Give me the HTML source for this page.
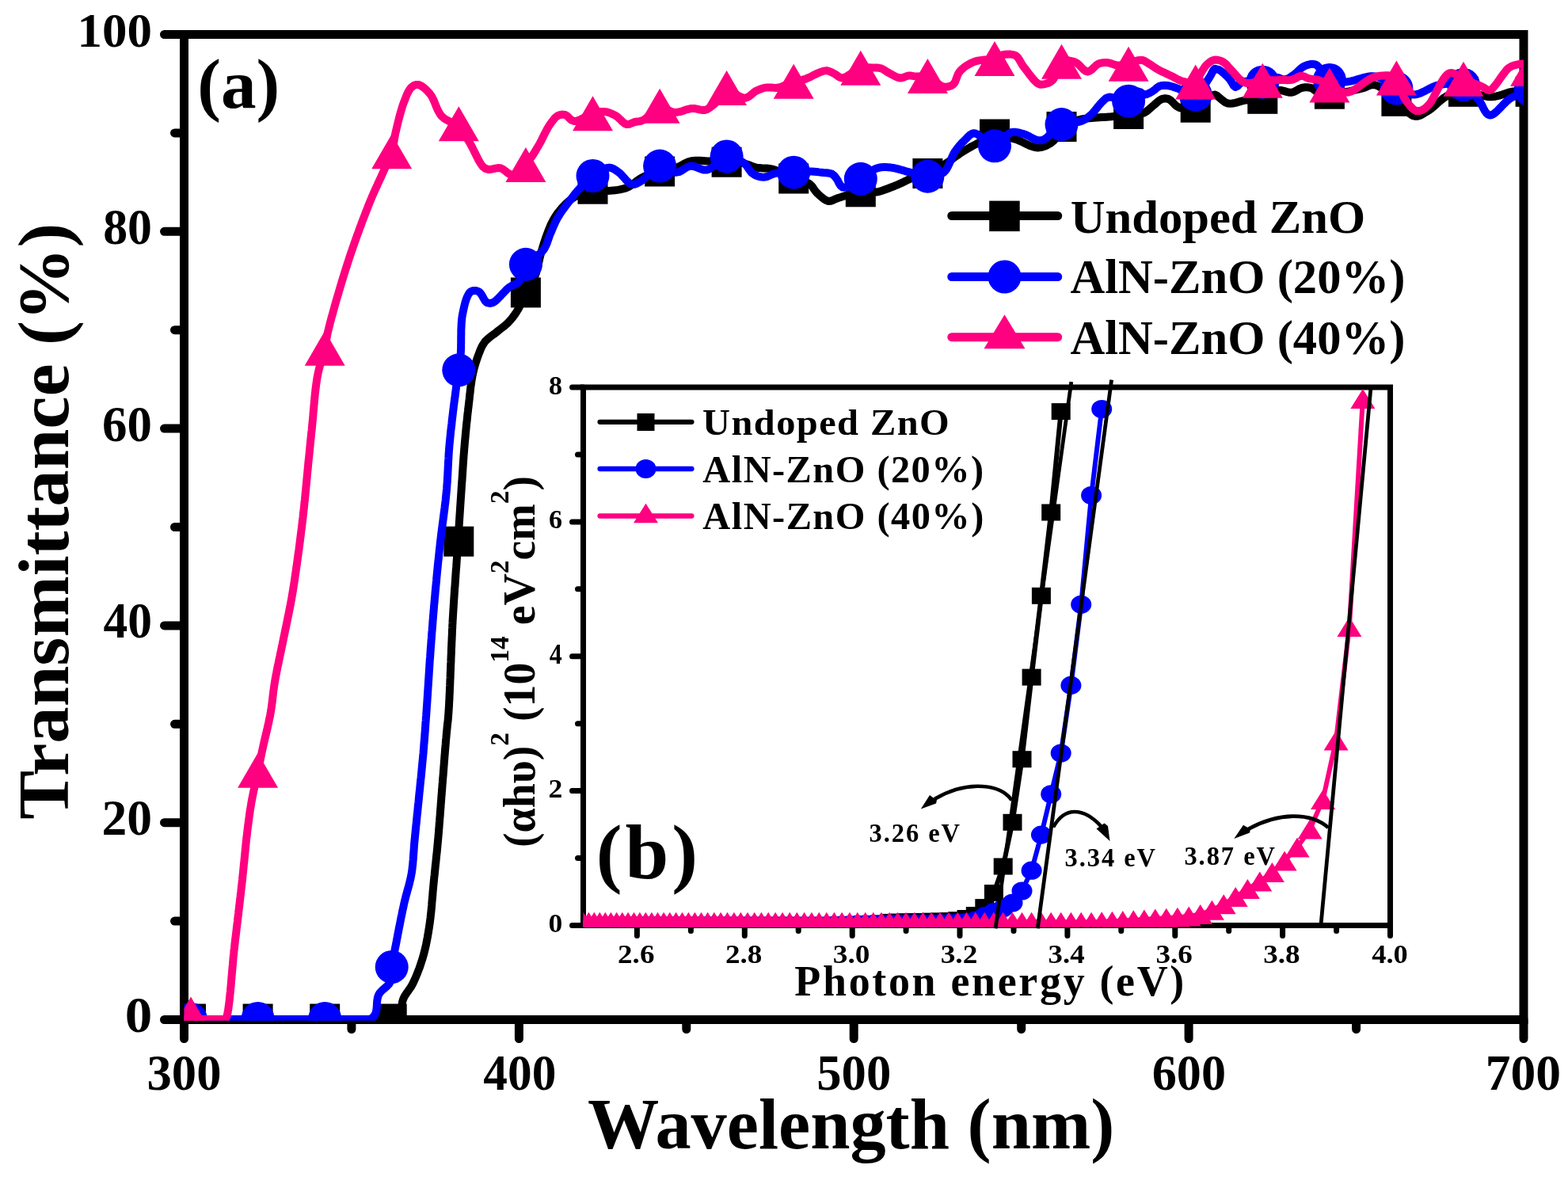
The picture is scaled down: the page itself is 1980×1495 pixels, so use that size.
<!DOCTYPE html><html><head><meta charset="utf-8"><title>Transmittance</title><style>html,body{margin:0;padding:0;background:#fff;overflow:hidden}svg{display:block}text{font-family:"Liberation Serif",serif;font-weight:bold;fill:#000}</style></head><body>
<svg width="1980" height="1495" viewBox="0 0 1980 1495">
<defs><clipPath id="cm"><rect x="232.5" y="43.5" width="1691.5" height="1245.3"/></clipPath><clipPath id="ci"><rect x="736.5" y="489" width="1019" height="681.5"/></clipPath></defs>
<rect width="1980" height="1495" fill="#fff"/>
<rect x="232.5" y="43.5" width="1691.5" height="1244.0" fill="none" stroke="#000" stroke-width="11"/>
<path d="M232.5,1287.5H207.5M232.5,1163.1H220.5M232.5,1038.7H207.5M232.5,914.3H220.5M232.5,789.9H207.5M232.5,665.5H220.5M232.5,541.1H207.5M232.5,416.7H220.5M232.5,292.3H207.5M232.5,167.9H220.5M232.5,43.5H207.5M232.5,1287.5V1311.5M443.9,1287.5V1299.5M655.4,1287.5V1311.5M866.8,1287.5V1299.5M1078.2,1287.5V1311.5M1289.7,1287.5V1299.5M1501.1,1287.5V1311.5M1712.6,1287.5V1299.5M1924.0,1287.5V1311.5" stroke="#000" stroke-width="11" stroke-linecap="round" fill="none"/>
<g clip-path="url(#cm)" stroke-linejoin="round" stroke-linecap="round" fill="none">
<polyline points="232.0,1287.0 235.0,1287.0 238.0,1287.0 241.1,1287.0 244.1,1287.0 247.2,1287.0 250.3,1287.0 253.4,1287.0 256.5,1287.0 259.6,1287.0 262.7,1287.0 265.8,1287.0 268.9,1287.0 272.1,1287.0 275.2,1287.0 278.4,1287.0 281.5,1287.0 284.7,1287.0 287.8,1287.0 291.0,1287.0 294.1,1287.0 297.3,1287.0 300.4,1287.0 303.6,1287.0 306.7,1287.0 309.9,1287.0 313.0,1287.0 316.1,1287.0 319.3,1287.0 322.4,1287.0 325.5,1287.0 328.6,1287.0 331.6,1287.0 334.7,1287.0 337.8,1287.0 340.8,1287.0 343.8,1287.0 346.9,1287.0 349.8,1287.0 352.8,1287.0 355.8,1287.0 358.7,1287.0 361.7,1287.0 364.6,1287.0 367.4,1287.0 370.3,1287.0 373.1,1287.0 375.9,1287.0 378.7,1287.0 381.5,1287.0 384.2,1287.0 386.9,1287.0 389.6,1287.0 392.2,1287.0 394.9,1287.0 397.4,1287.0 400.0,1287.0 403.5,1287.0 407.0,1287.0 410.5,1287.0 414.1,1287.0 417.7,1287.0 421.2,1287.0 424.8,1287.0 428.3,1287.0 431.9,1287.0 435.4,1287.0 438.9,1287.0 442.3,1287.0 445.7,1287.0 449.1,1287.0 452.4,1287.0 455.6,1287.0 458.7,1287.0 461.8,1287.0 464.8,1287.0 467.7,1287.0 470.5,1287.0 473.2,1287.0 475.8,1287.0 478.2,1287.0 480.5,1287.0 482.7,1287.0 484.8,1287.0 486.7,1287.0 488.4,1287.0 490.0,1287.0 494.2,1287.0 497.3,1287.0 500.0,1287.0 505.0,1287.0 505.9,1285.5 506.5,1283.1 506.8,1280.0 507.1,1276.4 507.3,1272.6 507.6,1268.7 508.1,1265.1 509.0,1262.0 510.3,1259.1 511.9,1256.3 513.7,1253.7 515.5,1251.1 517.4,1248.4 519.3,1245.6 521.0,1242.5 522.2,1240.0 523.4,1237.4 524.6,1234.7 525.8,1231.8 527.0,1229.0 528.1,1226.0 529.3,1223.0 530.4,1220.0 531.4,1216.9 532.4,1213.8 533.4,1210.8 534.3,1207.7 535.1,1204.8 535.9,1201.8 536.6,1198.8 537.3,1195.8 538.0,1192.8 538.6,1189.8 539.2,1186.7 539.8,1183.6 540.3,1180.5 540.9,1177.4 541.4,1174.1 541.9,1170.9 542.4,1167.6 542.8,1164.7 543.2,1161.7 543.6,1158.6 543.9,1155.5 544.3,1152.4 544.6,1149.3 544.9,1146.1 545.2,1142.9 545.4,1139.7 545.7,1136.5 546.0,1133.2 546.3,1130.0 546.5,1126.8 546.8,1123.6 547.1,1120.4 547.4,1117.2 547.7,1114.0 548.0,1110.9 548.3,1107.7 548.7,1104.6 549.0,1101.5 549.3,1098.4 549.6,1095.4 549.9,1092.3 550.3,1089.2 550.6,1086.1 550.9,1083.0 551.2,1079.8 551.6,1076.7 551.9,1073.5 552.2,1070.3 552.5,1067.1 552.8,1063.8 553.1,1060.5 553.4,1057.6 553.6,1054.7 553.9,1051.8 554.1,1048.8 554.4,1045.8 554.6,1042.8 554.8,1039.8 555.1,1036.7 555.3,1033.7 555.6,1030.6 555.8,1027.5 556.0,1024.4 556.3,1021.3 556.5,1018.2 556.7,1015.1 557.0,1012.0 557.2,1009.0 557.4,1005.9 557.7,1002.8 557.9,999.7 558.2,996.6 558.4,993.6 558.6,990.5 558.9,987.4 559.1,984.2 559.4,981.0 559.7,977.8 559.9,974.6 560.2,971.3 560.4,968.0 560.7,964.8 560.9,961.5 561.2,958.3 561.4,955.1 561.7,952.0 561.9,948.9 562.2,945.8 562.4,942.9 562.7,939.9 562.9,937.1 563.1,934.4 563.4,931.7 563.6,929.2 563.8,926.8 564.2,923.0 564.5,919.7 564.8,916.7 565.1,913.8 565.5,910.9 565.8,907.8 566.1,904.2 566.4,900.0 566.5,898.0 566.7,895.8 566.8,893.6 567.0,891.2 567.1,888.7 567.2,886.1 567.4,883.4 567.5,880.7 567.6,877.8 567.8,874.9 567.9,871.9 568.0,868.8 568.2,865.7 568.3,862.5 568.4,859.3 568.6,856.0 568.7,852.7 568.8,849.3 569.0,845.9 569.1,842.5 569.2,839.1 569.4,835.7 569.5,832.2 569.6,828.8 569.8,825.4 569.9,821.9 570.0,818.5 570.2,815.1 570.3,811.8 570.5,808.4 570.6,805.2 570.8,801.9 570.9,798.7 571.0,795.5 571.2,792.5 571.3,789.4 571.5,786.5 571.6,783.6 571.8,780.8 572.0,777.4 572.2,774.1 572.4,770.8 572.6,767.6 572.8,764.4 573.0,761.2 573.2,758.0 573.4,754.9 573.6,751.8 573.8,748.8 574.0,745.7 574.2,742.7 574.5,739.7 574.7,736.6 574.9,733.7 575.1,730.7 575.3,727.7 575.5,724.7 575.7,721.7 575.9,718.7 576.2,715.7 576.4,712.7 576.6,709.7 576.8,706.6 577.0,703.6 577.2,700.5 577.4,697.4 577.6,694.3 577.8,691.2 578.0,688.0 578.2,684.9 578.4,681.8 578.6,678.6 578.8,675.4 579.1,672.3 579.3,669.1 579.5,666.0 579.7,662.8 579.9,659.7 580.1,656.5 580.3,653.4 580.5,650.3 580.7,647.2 580.9,644.1 581.1,641.1 581.3,638.0 581.5,635.0 581.7,632.0 581.9,629.0 582.1,626.1 582.3,623.2 582.5,620.3 582.7,617.1 582.9,613.9 583.1,610.7 583.4,607.6 583.6,604.5 583.8,601.4 584.0,598.3 584.2,595.3 584.4,592.2 584.6,589.2 584.8,586.2 585.0,583.3 585.2,580.3 585.4,577.4 585.6,574.5 585.9,571.5 586.1,568.6 586.3,565.7 586.6,562.9 586.8,560.0 587.1,556.8 587.4,553.5 587.7,550.3 588.0,547.1 588.3,543.9 588.6,540.8 588.9,537.6 589.2,534.5 589.6,531.4 589.9,528.4 590.2,525.3 590.5,522.3 590.9,519.3 591.2,516.3 591.6,513.4 591.9,510.5 592.3,507.1 592.7,503.8 593.0,500.4 593.4,497.1 593.8,493.9 594.1,490.6 594.5,487.4 595.0,484.3 595.4,481.2 595.9,478.2 596.4,475.3 597.0,472.4 597.8,468.9 598.6,465.5 599.5,462.2 600.5,458.9 601.5,455.8 602.5,452.7 603.5,449.8 604.6,447.0 605.9,443.6 607.2,440.4 608.6,437.4 610.3,434.5 612.2,431.7 614.3,429.4 616.8,427.2 619.4,425.1 622.1,423.1 624.9,421.1 627.5,419.0 630.1,416.9 632.7,414.9 635.3,412.9 637.9,410.8 640.3,408.7 642.7,406.3 644.7,404.0 646.7,401.6 648.6,399.1 650.5,396.5 652.2,393.9 653.9,391.2 655.4,388.5 656.9,385.4 658.2,382.3 659.3,379.1 660.4,375.9 661.7,372.6 663.1,369.4 664.5,366.8 666.1,364.1 667.8,361.5 669.5,358.9 671.3,356.2 672.9,353.5 674.5,350.7 675.8,347.8 676.9,344.9 677.8,341.9 678.7,338.8 679.4,335.6 680.1,332.4 680.8,329.2 681.5,326.0 682.2,323.0 683.0,320.0 684.0,316.7 684.9,313.5 685.9,310.3 686.9,307.1 687.9,304.1 688.9,301.0 690.0,298.0 691.2,294.7 692.4,291.5 693.7,288.3 695.0,285.1 696.4,282.0 698.0,279.0 699.7,276.0 701.6,273.0 703.5,270.1 705.6,267.3 707.8,264.6 710.0,262.0 712.3,259.6 714.6,257.3 717.0,255.0 719.5,252.9 722.2,250.9 725.0,249.0 727.6,247.4 730.4,245.8 733.3,244.3 736.3,242.9 739.3,241.6 742.3,240.5 745.3,239.6 748.2,239.0 751.4,238.8 754.6,239.1 757.7,239.7 760.8,240.3 764.0,240.8 767.3,240.9 770.2,240.8 773.2,240.6 776.3,240.3 779.5,239.9 782.6,239.4 785.7,238.7 788.6,237.9 791.5,236.9 794.2,235.7 796.8,234.1 799.3,232.4 801.7,230.5 804.2,228.6 806.6,226.8 809.1,225.1 811.7,223.7 814.6,222.4 817.5,221.2 820.4,220.1 823.4,219.1 826.4,218.2 829.4,217.4 832.4,216.5 835.5,215.7 838.6,215.0 841.8,214.4 844.9,213.8 848.1,213.2 851.1,212.5 854.1,211.6 857.2,210.4 860.2,208.9 863.1,207.3 866.0,205.8 869.1,204.4 872.3,203.5 875.1,203.0 878.1,202.8 881.2,202.8 884.3,202.8 887.4,203.0 890.6,203.2 893.6,203.4 896.6,203.5 900.1,203.6 903.6,203.8 907.0,204.0 910.4,204.3 913.7,204.5 917.1,204.7 920.4,204.8 923.8,204.8 927.2,204.8 930.5,204.9 933.8,205.1 937.0,205.6 940.1,206.4 943.1,207.4 946.1,208.5 949.1,209.7 952.1,210.8 955.2,211.6 958.5,212.1 961.8,212.3 965.1,212.4 968.5,212.6 971.9,212.9 975.4,213.6 978.3,214.5 981.2,215.6 984.2,217.0 987.2,218.4 990.3,220.0 993.3,221.5 996.3,223.0 999.2,224.3 1002.0,225.5 1005.5,226.7 1009.1,227.6 1012.6,228.4 1015.9,229.2 1019.0,230.3 1021.8,231.8 1024.2,233.9 1026.2,236.3 1027.9,238.9 1029.8,241.5 1031.9,243.9 1034.5,246.3 1037.4,248.9 1040.3,251.2 1043.3,253.0 1046.2,254.0 1049.1,253.8 1051.9,252.8 1054.9,251.3 1058.3,250.0 1060.9,249.2 1063.8,248.3 1066.9,247.3 1070.2,246.2 1073.5,245.2 1076.9,244.3 1080.2,243.5 1083.4,242.8 1086.4,242.3 1090.0,242.0 1093.6,242.1 1097.0,242.4 1100.4,242.6 1103.7,242.7 1106.8,242.5 1110.5,241.8 1113.9,240.7 1117.3,239.5 1120.8,238.2 1124.0,237.0 1127.3,235.8 1130.6,234.4 1133.8,233.1 1137.0,231.7 1139.9,230.4 1142.6,229.0 1145.4,227.6 1148.2,226.3 1151.2,225.0 1154.3,223.9 1157.6,223.0 1161.0,222.1 1164.4,221.2 1167.8,220.2 1171.1,219.0 1174.2,217.7 1177.3,216.3 1180.3,214.8 1183.3,213.2 1186.4,211.5 1189.6,209.6 1192.1,208.0 1194.7,206.3 1197.4,204.5 1200.1,202.5 1202.8,200.6 1205.5,198.6 1208.2,196.6 1210.9,194.8 1213.4,193.0 1215.9,191.4 1219.1,189.5 1222.1,187.7 1225.0,186.0 1227.9,184.4 1230.9,182.9 1234.0,181.3 1236.9,179.8 1239.9,178.2 1242.9,176.6 1246.0,175.1 1249.1,173.7 1252.3,172.7 1255.5,172.0 1258.5,171.7 1261.5,171.8 1264.6,172.0 1267.7,172.4 1270.9,173.0 1274.1,173.7 1277.3,174.5 1280.5,175.3 1283.5,176.2 1286.5,177.4 1289.6,178.8 1292.8,180.3 1295.9,181.9 1299.0,183.3 1302.1,184.6 1305.1,185.6 1308.0,186.2 1310.8,186.4 1314.0,186.1 1317.2,185.3 1320.3,184.2 1323.3,182.7 1326.2,181.1 1328.7,179.3 1331.0,177.3 1332.9,174.8 1334.3,171.8 1335.4,168.6 1336.5,165.4 1337.9,162.5 1339.9,160.0 1342.1,158.3 1344.6,156.8 1347.3,155.6 1350.2,154.5 1353.3,153.5 1356.6,152.6 1359.9,151.8 1363.3,151.0 1366.0,150.4 1368.8,150.0 1371.8,149.6 1375.0,149.2 1378.2,149.0 1381.5,148.7 1384.8,148.5 1388.1,148.3 1391.4,148.1 1394.6,147.9 1397.6,147.7 1400.5,147.5 1403.3,147.3 1405.8,147.0 1409.3,146.5 1412.4,146.0 1415.3,145.4 1418.1,144.9 1421.0,144.4 1424.0,144.0 1427.4,143.8 1430.9,143.8 1434.5,143.8 1437.9,143.8 1441.2,143.4 1444.1,142.7 1447.2,141.1 1449.8,139.0 1452.4,136.7 1455.0,134.5 1457.4,132.5 1459.9,130.2 1462.4,128.0 1464.9,126.2 1467.3,125.0 1471.4,124.3 1475.5,125.0 1478.0,126.5 1480.6,128.9 1483.2,131.7 1486.0,134.2 1489.1,135.9 1492.1,136.7 1495.4,137.2 1498.8,137.3 1502.3,137.1 1505.7,136.6 1509.0,135.7 1511.7,134.5 1514.3,132.7 1517.0,130.6 1519.7,128.3 1522.2,125.9 1524.5,123.8 1526.7,122.1 1528.6,120.9 1534.1,119.5 1536.3,120.5 1538.8,122.4 1541.5,124.8 1544.4,127.2 1547.4,129.3 1550.5,130.5 1553.5,130.8 1556.7,130.5 1560.1,129.8 1563.5,128.9 1567.0,127.9 1570.3,127.0 1573.6,126.4 1577.0,126.1 1580.4,126.0 1583.7,126.0 1587.0,125.8 1590.2,125.5 1593.5,124.8 1596.5,123.6 1599.6,122.0 1602.6,120.1 1605.6,118.1 1608.6,116.3 1611.6,114.9 1614.5,114.1 1617.9,114.1 1621.2,114.9 1624.5,115.9 1627.8,116.7 1630.9,116.8 1634.5,115.7 1637.9,113.8 1641.2,111.9 1644.6,110.7 1647.8,110.3 1651.1,110.3 1654.1,110.7 1656.8,111.4 1659.5,113.4 1662.3,115.5 1664.8,116.5 1667.7,117.3 1671.0,118.0 1674.6,118.5 1678.4,118.7 1680.9,118.7 1683.7,118.5 1686.8,118.1 1690.0,117.7 1693.3,117.2 1696.7,116.6 1700.1,115.9 1703.5,115.3 1706.8,114.6 1710.1,113.9 1713.1,113.2 1716.0,112.6 1718.6,112.0 1722.0,111.0 1725.0,109.8 1727.8,108.6 1730.6,107.6 1733.4,107.1 1736.4,107.3 1738.7,108.0 1741.2,109.1 1743.6,110.7 1746.1,112.5 1748.6,114.5 1751.2,116.8 1753.7,119.1 1756.2,121.4 1758.7,123.7 1761.1,125.8 1763.5,127.8 1765.9,129.9 1768.3,132.1 1770.7,134.5 1773.1,136.9 1775.4,139.3 1777.7,141.5 1780.0,143.4 1782.3,145.0 1784.6,146.2 1786.8,146.8 1790.1,146.7 1793.4,145.7 1796.6,144.1 1799.8,142.1 1803.2,140.0 1805.5,138.5 1807.9,136.7 1810.3,134.7 1812.8,132.5 1815.2,130.3 1817.7,128.1 1820.2,126.0 1822.7,124.0 1825.2,122.3 1827.7,120.9 1831.0,119.4 1834.2,118.2 1837.5,117.2 1840.8,116.5 1844.3,116.0 1848.0,115.8 1850.6,115.9 1853.4,116.2 1856.3,116.7 1859.3,117.4 1862.4,118.2 1865.5,119.1 1868.6,119.9 1871.7,120.7 1874.8,121.4 1877.8,121.9 1880.8,122.2 1883.6,122.3 1886.8,122.0 1890.0,121.4 1893.1,120.6 1896.1,119.7 1899.1,118.7 1902.1,117.7 1905.1,116.7 1908.0,116.0 1911.0,115.5 1914.1,115.2 1917.1,115.1 1920.1,115.2 1923.1,115.3 1926.1,115.4 1929.0,115.6 1932.0,115.7 1935.0,115.8" stroke="#000" stroke-width="10"/>
</g><g clip-path="url(#cm)">
<rect x="222.0" y="1267.5" width="38" height="38" fill="#000"/>
<rect x="306.6" y="1267.5" width="38" height="38" fill="#000"/>
<rect x="391.2" y="1267.5" width="38" height="38" fill="#000"/>
<rect x="475.7" y="1267.5" width="38" height="38" fill="#000"/>
<rect x="560.3" y="664.7" width="38" height="38" fill="#000"/>
<rect x="644.9" y="350.4" width="38" height="38" fill="#000"/>
<rect x="729.5" y="219.7" width="38" height="38" fill="#000"/>
<rect x="814.1" y="197.5" width="38" height="38" fill="#000"/>
<rect x="898.6" y="185.7" width="38" height="38" fill="#000"/>
<rect x="983.2" y="206.5" width="38" height="38" fill="#000"/>
<rect x="1067.8" y="223.3" width="38" height="38" fill="#000"/>
<rect x="1152.4" y="200.0" width="38" height="38" fill="#000"/>
<rect x="1237.0" y="150.5" width="38" height="38" fill="#000"/>
<rect x="1321.5" y="141.0" width="38" height="38" fill="#000"/>
<rect x="1406.1" y="125.0" width="38" height="38" fill="#000"/>
<rect x="1490.7" y="116.7" width="38" height="38" fill="#000"/>
<rect x="1575.3" y="105.8" width="38" height="38" fill="#000"/>
<rect x="1659.9" y="99.7" width="38" height="38" fill="#000"/>
<rect x="1744.4" y="108.8" width="38" height="38" fill="#000"/>
<rect x="1829.0" y="96.8" width="38" height="38" fill="#000"/>
<rect x="1913.6" y="96.8" width="38" height="38" fill="#000"/>
</g><g clip-path="url(#cm)" stroke-linejoin="round" stroke-linecap="round" fill="none">
<polyline points="232.0,1287.0 235.0,1287.0 238.1,1287.0 241.1,1287.0 244.1,1287.0 247.2,1287.0 250.2,1287.0 253.3,1287.0 256.3,1287.0 259.4,1287.0 262.4,1287.0 265.5,1287.0 268.5,1287.0 271.6,1287.0 274.6,1287.0 277.7,1287.0 280.8,1287.0 283.8,1287.0 286.9,1287.0 289.9,1287.0 293.0,1287.0 296.0,1287.0 299.0,1287.0 302.1,1287.0 305.1,1287.0 308.1,1287.0 311.2,1287.0 314.2,1287.0 317.2,1287.0 320.2,1287.0 323.2,1287.0 326.2,1287.0 329.2,1287.0 332.2,1287.0 335.2,1287.0 338.2,1287.0 341.1,1287.0 344.1,1287.0 347.1,1287.0 350.0,1287.0 353.1,1287.0 356.3,1287.0 359.6,1287.0 363.0,1287.0 366.4,1287.0 369.8,1287.0 373.3,1287.0 376.8,1287.0 380.4,1287.0 383.9,1287.0 387.5,1287.0 391.1,1287.0 394.6,1287.0 398.2,1287.0 401.7,1287.0 405.2,1287.0 408.6,1287.0 412.0,1287.0 415.4,1287.0 418.7,1287.0 421.9,1287.0 425.0,1287.0 428.1,1287.0 431.0,1287.0 433.9,1287.0 436.6,1287.0 439.2,1287.0 441.7,1287.0 444.1,1287.0 446.3,1287.0 448.4,1287.0 450.3,1287.0 452.0,1287.0 453.6,1287.0 455.0,1287.0 459.7,1287.0 463.0,1287.0 467.5,1287.0 469.8,1285.5 472.1,1283.1 474.1,1280.0 474.9,1277.7 475.4,1274.9 475.7,1271.8 475.9,1268.5 476.1,1265.1 476.5,1261.8 477.2,1258.7 478.2,1255.9 479.9,1253.3 482.0,1251.0 484.5,1248.8 487.0,1246.7 489.4,1244.5 491.4,1242.3 492.9,1239.8 493.8,1236.9 494.3,1233.9 494.4,1230.8 494.4,1227.6 494.4,1224.4 494.7,1221.0 495.1,1218.3 495.5,1215.5 496.0,1212.8 496.6,1209.9 497.1,1207.0 497.7,1204.0 498.3,1200.9 498.9,1197.7 499.6,1194.3 500.1,1191.8 500.6,1189.1 501.1,1186.3 501.7,1183.5 502.2,1180.5 502.8,1177.5 503.4,1174.4 504.0,1171.2 504.7,1168.1 505.3,1164.9 505.9,1161.7 506.5,1158.6 507.2,1155.5 507.8,1152.4 508.4,1149.4 509.1,1146.4 509.7,1143.6 510.3,1140.8 511.1,1137.4 511.9,1134.2 512.7,1131.0 513.6,1127.9 514.4,1124.8 515.3,1121.8 516.1,1118.8 516.9,1115.8 517.6,1112.7 518.4,1109.6 519.0,1106.5 519.6,1103.3 520.1,1100.4 520.5,1097.4 520.8,1094.4 521.2,1091.5 521.4,1088.5 521.7,1085.4 521.9,1082.4 522.1,1079.4 522.4,1076.3 522.6,1073.2 522.8,1070.0 523.0,1066.9 523.3,1063.7 523.6,1060.5 523.9,1057.5 524.2,1054.5 524.5,1051.4 524.8,1048.3 525.1,1045.2 525.4,1042.1 525.8,1038.9 526.1,1035.7 526.4,1032.5 526.7,1029.3 527.1,1026.1 527.4,1022.9 527.7,1019.7 528.0,1016.5 528.4,1013.3 528.7,1010.2 529.0,1007.0 529.3,1003.9 529.6,1000.7 530.0,997.6 530.3,994.4 530.6,991.3 530.9,988.1 531.2,985.0 531.6,981.8 531.9,978.7 532.2,975.5 532.5,972.4 532.8,969.2 533.1,966.1 533.4,962.9 533.7,959.8 534.0,956.6 534.3,953.5 534.6,950.4 534.8,947.3 535.1,944.2 535.3,941.1 535.6,938.1 535.8,935.0 536.1,932.0 536.3,928.9 536.5,925.9 536.8,922.8 537.0,919.7 537.2,916.5 537.4,913.3 537.7,910.1 537.9,906.8 538.2,903.4 538.4,900.0 538.6,897.2 538.8,894.4 539.0,891.5 539.2,888.6 539.4,885.7 539.6,882.7 539.8,879.7 540.0,876.6 540.2,873.5 540.4,870.4 540.6,867.3 540.8,864.2 541.0,861.1 541.2,857.9 541.4,854.8 541.6,851.6 541.8,848.5 542.0,845.3 542.2,842.2 542.4,839.1 542.6,836.0 542.8,832.9 543.1,829.9 543.3,826.9 543.5,823.9 543.7,821.0 543.9,817.8 544.2,814.7 544.4,811.6 544.6,808.5 544.9,805.4 545.1,802.3 545.3,799.3 545.6,796.2 545.8,793.2 546.1,790.2 546.3,787.1 546.5,784.1 546.8,781.1 547.0,778.1 547.3,775.1 547.5,772.1 547.8,769.1 548.0,766.1 548.3,763.1 548.6,760.1 548.8,757.0 549.1,754.0 549.4,751.0 549.6,747.9 549.9,744.9 550.2,741.8 550.5,738.8 550.8,735.8 551.1,732.7 551.3,729.7 551.6,726.7 551.9,723.6 552.2,720.6 552.5,717.6 552.8,714.5 553.1,711.5 553.4,708.4 553.8,705.4 554.1,702.4 554.4,699.3 554.7,696.3 555.0,693.3 555.4,690.2 555.7,687.2 556.0,684.2 556.4,681.1 556.8,678.0 557.1,675.0 557.5,671.9 557.9,668.9 558.3,665.8 558.7,662.7 559.1,659.7 559.5,656.6 559.9,653.5 560.3,650.5 560.7,647.4 561.1,644.4 561.5,641.3 561.8,638.3 562.2,635.3 562.6,632.3 562.9,629.3 563.2,626.3 563.5,623.3 563.8,620.3 564.1,617.2 564.3,614.2 564.5,611.2 564.8,608.2 564.9,605.2 565.1,602.2 565.3,599.2 565.4,596.3 565.6,593.3 565.7,590.4 565.9,587.4 566.0,584.4 566.2,581.5 566.4,578.5 566.5,575.5 566.7,572.4 566.9,569.4 567.2,566.3 567.4,563.2 567.7,560.0 568.0,557.1 568.3,554.1 568.6,551.1 568.9,547.9 569.2,544.7 569.6,541.4 570.0,538.1 570.4,534.8 570.7,531.5 571.1,528.1 571.5,524.8 571.9,521.5 572.3,518.2 572.7,514.9 573.1,511.7 573.5,508.6 573.9,505.5 574.3,502.5 574.7,499.7 575.0,496.9 575.4,494.3 575.7,491.7 576.0,489.4 576.3,487.1 576.6,485.1 577.1,481.4 577.6,478.3 578.0,475.5 578.5,472.9 578.9,470.2 579.3,467.3 579.7,464.1 580.2,461.0 580.6,457.8 581.0,454.5 581.3,450.9 581.7,447.0 581.9,444.4 582.0,441.6 582.1,438.7 582.1,435.5 582.2,432.3 582.2,428.9 582.2,425.5 582.3,422.0 582.3,418.5 582.4,415.0 582.6,411.6 582.7,408.2 583.0,405.0 583.3,401.8 583.7,398.9 584.2,396.1 585.0,392.4 585.8,388.6 586.7,384.8 587.7,381.1 588.8,377.7 590.1,374.5 591.4,371.9 592.8,369.7 594.4,368.2 597.6,367.0 601.2,367.1 604.6,368.2 606.8,370.2 608.9,373.4 610.8,377.0 612.7,380.1 614.8,382.1 618.4,383.0 622.4,382.1 624.3,381.0 626.5,379.3 628.7,377.2 631.1,374.8 633.5,372.2 635.9,369.6 638.3,367.1 640.5,364.8 642.7,363.0 646.1,360.9 649.5,359.4 652.6,357.8 655.4,355.4 657.0,353.0 658.1,350.1 659.0,346.8 659.9,343.4 660.9,340.0 662.2,336.7 663.9,333.8 665.8,331.6 668.2,329.5 670.7,327.6 673.5,325.8 676.3,324.0 679.1,322.1 681.7,320.2 684.0,318.2 686.0,316.0 687.8,313.2 689.3,310.3 690.6,307.3 691.7,304.2 692.7,301.1 693.8,298.0 695.0,295.0 696.3,292.1 697.5,289.2 698.7,286.3 700.0,283.4 701.3,280.5 702.7,277.7 704.2,274.9 705.9,272.1 707.6,269.4 709.5,266.7 711.4,264.0 713.4,261.4 715.3,258.8 717.3,256.2 719.2,253.7 721.1,251.2 723.0,248.7 724.9,246.2 726.9,243.8 728.9,241.4 731.0,239.0 733.0,236.8 735.1,234.5 737.2,232.3 739.3,230.0 741.5,227.9 743.8,225.8 746.1,223.8 748.5,222.0 751.3,220.0 754.3,218.0 757.5,216.0 760.6,214.3 763.7,212.9 766.6,211.9 769.3,211.6 772.5,212.2 775.5,213.6 778.4,215.5 781.4,217.7 783.7,219.6 786.0,222.1 788.4,224.8 790.7,227.5 793.1,229.9 795.4,231.8 797.6,232.8 801.1,232.8 804.4,231.5 807.7,229.8 810.3,228.2 812.7,226.2 815.2,224.0 817.8,221.7 820.1,219.6 822.5,217.1 825.0,214.6 827.6,212.3 830.3,210.5 833.1,209.6 835.9,209.8 838.8,210.8 841.9,212.4 845.0,214.3 848.1,216.0 851.1,217.3 854.1,217.7 857.2,217.1 860.2,215.7 863.2,213.8 866.2,211.9 869.2,210.4 872.3,209.6 875.6,209.9 878.9,210.9 882.3,212.3 885.7,213.7 889.1,214.6 892.5,214.6 895.0,213.8 897.5,212.3 900.0,210.4 902.5,208.2 905.1,205.9 907.6,203.5 910.2,201.3 912.7,199.5 915.2,198.2 917.7,197.5 920.8,197.5 924.1,198.0 927.3,199.1 930.5,200.5 933.5,202.1 936.4,203.8 939.0,205.6 941.4,207.7 943.4,210.2 945.2,212.9 947.0,215.5 948.9,217.9 951.1,219.7 954.4,221.5 958.0,222.8 961.7,223.5 965.3,223.7 968.7,223.0 972.1,221.5 975.6,219.9 979.4,218.7 982.4,218.3 985.5,218.0 988.8,217.9 992.2,217.8 995.6,217.8 999.0,217.8 1002.2,217.7 1005.6,217.5 1008.9,217.2 1012.2,216.9 1015.5,216.7 1018.8,216.5 1022.0,216.5 1025.1,216.6 1028.2,216.8 1031.4,217.0 1034.4,217.4 1037.3,217.7 1040.0,218.0 1043.9,218.3 1047.4,218.7 1050.5,219.6 1053.5,222.0 1056.2,225.3 1058.0,228.2 1059.7,231.7 1061.7,234.8 1064.2,236.6 1066.4,236.7 1068.9,236.1 1071.8,234.9 1074.8,233.2 1077.9,231.4 1081.0,229.4 1084.0,227.5 1086.8,225.8 1089.8,223.9 1092.6,221.8 1095.5,219.6 1098.3,217.5 1101.1,215.5 1103.9,213.8 1106.8,212.6 1109.8,211.8 1112.7,211.3 1115.7,211.1 1118.7,211.1 1121.8,211.3 1125.0,211.6 1127.9,212.0 1130.9,212.6 1133.9,213.4 1137.0,214.2 1140.1,215.1 1143.1,216.1 1146.2,216.9 1149.2,217.7 1152.4,218.5 1155.6,219.5 1158.8,220.4 1162.0,221.3 1165.2,222.1 1168.3,222.5 1171.4,222.7 1174.9,222.6 1178.5,222.3 1182.0,221.8 1185.5,220.9 1188.7,219.5 1191.6,217.7 1193.6,215.7 1195.5,213.2 1197.1,210.2 1198.6,207.0 1200.0,203.7 1201.4,200.3 1202.8,197.0 1204.2,194.0 1205.8,191.4 1207.8,188.7 1209.7,186.1 1211.7,183.7 1213.7,181.5 1215.8,179.3 1217.9,177.3 1220.2,175.0 1222.4,172.6 1224.7,170.5 1227.2,168.9 1230.0,168.2 1232.2,168.6 1234.6,169.8 1237.2,171.6 1239.9,173.9 1242.6,176.3 1245.4,178.8 1248.2,181.0 1250.9,182.8 1253.5,184.0 1256.0,184.3 1258.7,183.5 1261.4,181.7 1263.9,179.2 1266.5,176.3 1269.0,173.4 1271.4,170.6 1274.0,168.5 1276.5,167.2 1279.7,166.7 1282.8,166.8 1286.0,167.4 1289.2,168.3 1292.6,169.2 1295.6,170.2 1298.7,171.7 1301.9,173.5 1305.1,175.1 1308.4,176.5 1311.6,177.3 1314.8,177.3 1317.4,176.5 1319.9,175.1 1322.5,173.1 1325.0,170.7 1327.6,168.2 1330.1,165.5 1332.7,163.0 1335.3,160.6 1337.9,158.6 1340.6,157.1 1343.7,156.0 1346.9,155.4 1350.2,155.0 1353.5,154.7 1356.7,154.5 1359.9,154.2 1362.8,153.8 1365.4,153.0 1368.8,151.4 1371.8,149.6 1374.6,147.4 1377.5,145.0 1379.6,143.0 1381.7,140.6 1383.7,138.1 1385.8,135.5 1387.8,133.0 1389.7,130.7 1391.6,128.8 1394.2,126.2 1396.6,124.1 1399.7,122.7 1402.2,122.6 1405.2,123.2 1408.6,124.2 1412.2,125.4 1415.7,126.6 1419.2,127.6 1422.4,128.0 1425.1,127.7 1428.0,125.9 1430.6,122.9 1432.9,119.6 1435.1,116.9 1437.3,115.5 1440.0,116.3 1442.7,118.3 1445.5,119.5 1448.6,118.9 1451.8,117.3 1455.0,115.5 1458.2,113.2 1461.3,110.5 1464.5,108.6 1467.6,107.9 1470.8,107.8 1474.1,108.0 1477.0,108.5 1479.9,109.3 1483.0,110.3 1486.4,111.4 1489.0,112.4 1491.9,113.8 1494.9,115.4 1498.0,117.0 1501.1,118.5 1504.2,119.5 1507.1,120.0 1509.7,119.7 1512.0,118.6 1514.3,116.8 1516.5,114.5 1518.5,111.7 1520.5,108.7 1522.4,105.7 1524.1,102.7 1525.8,100.0 1527.3,97.7 1529.2,94.4 1530.9,91.1 1532.4,88.3 1534.1,86.8 1539.5,88.2 1541.6,89.5 1543.9,91.4 1546.4,93.6 1548.9,96.0 1551.2,98.3 1553.2,100.5 1555.6,104.3 1557.7,108.0 1560.0,110.0 1562.8,108.7 1565.8,105.6 1569.6,103.2 1572.1,102.7 1575.0,102.7 1578.1,102.8 1581.5,103.2 1584.8,103.6 1588.2,103.8 1591.4,103.9 1594.3,103.7 1597.5,102.9 1600.5,101.7 1603.5,100.4 1606.4,99.1 1609.2,98.1 1611.8,97.7 1615.6,98.5 1619.1,100.0 1622.7,100.5 1625.8,99.6 1628.9,97.9 1632.0,95.7 1635.0,93.6 1637.7,91.2 1640.3,88.6 1643.0,86.1 1645.9,84.1 1648.7,82.9 1651.7,81.8 1654.8,81.0 1657.9,80.9 1660.9,81.4 1663.2,82.7 1665.4,84.9 1667.5,87.6 1669.6,90.7 1671.8,93.8 1674.0,96.7 1676.4,99.2 1678.9,101.0 1681.7,102.2 1684.6,102.9 1687.7,103.3 1690.8,103.5 1694.1,103.5 1697.4,103.4 1700.9,103.2 1703.6,102.9 1706.4,102.4 1709.3,101.7 1712.4,100.8 1715.4,99.9 1718.5,99.0 1721.6,98.1 1724.7,97.3 1727.8,96.7 1730.8,96.3 1733.6,96.2 1736.4,96.4 1739.3,97.1 1742.2,98.2 1745.0,99.6 1747.7,101.3 1750.4,103.1 1753.1,104.9 1755.7,106.8 1758.3,108.6 1760.9,110.2 1763.5,111.5 1766.7,113.0 1769.8,114.6 1772.8,116.1 1775.9,117.5 1779.0,118.6 1782.2,119.3 1785.5,119.5 1788.1,119.2 1790.8,118.6 1793.6,117.6 1796.4,116.3 1799.3,114.9 1802.2,113.4 1805.1,111.8 1808.0,110.4 1811.0,109.1 1813.9,108.0 1816.8,107.3 1819.9,106.7 1823.2,106.2 1826.4,105.7 1829.7,105.3 1833.0,105.1 1836.3,105.0 1839.4,105.1 1842.4,105.5 1845.3,106.1 1848.0,107.0 1850.6,108.3 1853.0,110.0 1855.3,112.0 1857.5,114.2 1859.6,116.6 1861.6,119.1 1863.5,121.6 1865.4,124.1 1867.3,126.4 1869.4,129.4 1871.3,132.8 1873.0,136.3 1874.8,139.6 1876.6,142.4 1878.7,144.5 1881.0,145.5 1883.0,145.3 1885.2,144.4 1887.5,142.8 1889.9,140.7 1892.4,138.2 1895.0,135.6 1897.6,132.8 1900.3,130.1 1902.9,127.5 1905.6,125.3 1908.2,123.6 1911.1,122.1 1914.0,120.8 1917.0,119.7 1920.0,118.7 1923.0,117.7 1926.0,116.8 1929.0,115.9 1932.0,115.0 1935.0,114.0" stroke="#0000FF" stroke-width="10"/>
</g><g clip-path="url(#cm)">
<circle cx="241.0" cy="1287.0" r="21" fill="#0000FF"/>
<circle cx="325.6" cy="1286.0" r="21" fill="#0000FF"/>
<circle cx="410.2" cy="1286.0" r="21" fill="#0000FF"/>
<circle cx="494.7" cy="1221.0" r="21" fill="#0000FF"/>
<circle cx="579.3" cy="467.3" r="21" fill="#0000FF"/>
<circle cx="663.9" cy="333.8" r="21" fill="#0000FF"/>
<circle cx="748.5" cy="222.0" r="21" fill="#0000FF"/>
<circle cx="833.1" cy="209.6" r="21" fill="#0000FF"/>
<circle cx="917.6" cy="197.5" r="21" fill="#0000FF"/>
<circle cx="1002.2" cy="217.7" r="21" fill="#0000FF"/>
<circle cx="1086.8" cy="225.8" r="21" fill="#0000FF"/>
<circle cx="1171.4" cy="222.7" r="21" fill="#0000FF"/>
<circle cx="1256.0" cy="184.3" r="21" fill="#0000FF"/>
<circle cx="1340.5" cy="157.1" r="21" fill="#0000FF"/>
<circle cx="1425.1" cy="127.7" r="21" fill="#0000FF"/>
<circle cx="1509.7" cy="119.7" r="21" fill="#0000FF"/>
<circle cx="1594.3" cy="103.7" r="21" fill="#0000FF"/>
<circle cx="1678.9" cy="101.0" r="21" fill="#0000FF"/>
<circle cx="1763.4" cy="111.5" r="21" fill="#0000FF"/>
<circle cx="1848.0" cy="107.0" r="21" fill="#0000FF"/>
<circle cx="1932.6" cy="114.0" r="21" fill="#0000FF"/>
</g><g clip-path="url(#cm)" stroke-linejoin="round" stroke-linecap="round" fill="none">
<polyline points="232.0,1287.0 235.2,1287.0 238.4,1287.0 241.7,1287.0 244.9,1287.0 248.2,1287.0 251.3,1287.0 254.4,1287.0 257.3,1287.0 260.0,1287.0 263.4,1287.0 266.7,1287.0 269.8,1287.0 272.6,1287.0 275.0,1287.0 280.0,1287.0 283.0,1287.0 285.5,1285.3 285.9,1284.4 286.4,1283.2 286.8,1281.8 287.2,1280.0 287.6,1278.1 288.0,1275.9 288.4,1273.4 288.7,1270.8 289.1,1268.0 289.5,1265.0 289.8,1261.9 290.2,1258.6 290.5,1255.2 290.9,1251.7 291.2,1248.1 291.6,1244.4 291.9,1240.7 292.2,1236.9 292.5,1233.1 292.9,1229.3 293.2,1225.5 293.5,1221.8 293.9,1218.0 294.2,1214.3 294.5,1210.7 294.8,1207.2 295.2,1203.8 295.5,1200.5 295.9,1197.3 296.2,1194.3 296.6,1191.1 296.9,1187.9 297.3,1184.8 297.7,1181.6 298.1,1178.4 298.5,1175.2 298.8,1172.1 299.2,1168.9 299.6,1165.8 300.0,1162.6 300.3,1159.5 300.7,1156.4 301.1,1153.3 301.4,1150.2 301.8,1147.1 302.2,1144.0 302.5,1140.9 302.9,1137.9 303.2,1134.8 303.6,1131.8 303.9,1128.8 304.3,1125.8 304.6,1122.8 304.9,1119.9 305.3,1116.9 305.6,1114.0 306.0,1110.8 306.3,1107.5 306.6,1104.3 307.0,1101.1 307.3,1097.8 307.6,1094.6 307.9,1091.4 308.3,1088.2 308.6,1085.1 308.9,1081.9 309.2,1078.8 309.5,1075.7 309.8,1072.7 310.1,1069.7 310.4,1066.7 310.7,1063.7 311.0,1060.8 311.3,1058.0 311.7,1055.2 312.0,1052.5 312.3,1049.8 312.7,1046.3 313.1,1043.0 313.6,1039.7 314.0,1036.6 314.4,1033.5 314.8,1030.5 315.2,1027.5 315.6,1024.5 316.1,1021.5 316.6,1018.5 317.1,1015.5 317.6,1012.4 318.2,1009.3 318.8,1006.1 319.5,1002.9 320.1,999.7 320.8,996.5 321.5,993.3 322.3,990.1 323.0,987.0 323.7,983.9 324.3,980.9 325.0,977.9 325.6,975.0 326.2,971.9 326.8,968.9 327.4,966.0 328.0,963.2 328.5,960.4 329.1,957.5 329.7,954.6 330.3,951.5 331.0,948.2 331.6,945.6 332.2,942.8 332.8,940.0 333.5,937.0 334.2,934.0 334.9,930.9 335.7,927.8 336.4,924.7 337.2,921.5 337.9,918.3 338.6,915.2 339.3,912.0 339.9,908.9 340.6,905.9 341.2,902.9 341.7,900.0 342.2,896.9 342.7,893.8 343.1,890.9 343.5,887.9 343.9,885.0 344.2,882.1 344.5,879.2 344.9,876.3 345.2,873.3 345.6,870.3 346.0,867.3 346.5,864.2 347.0,861.0 347.5,858.2 348.0,855.4 348.5,852.6 349.1,849.7 349.6,846.8 350.2,843.8 350.8,840.8 351.5,837.8 352.1,834.8 352.7,831.8 353.4,828.8 354.0,825.7 354.7,822.7 355.3,819.6 355.9,816.6 356.6,813.6 357.2,810.6 357.8,807.6 358.4,804.6 359.0,801.7 359.6,798.7 360.2,795.7 360.9,792.7 361.5,789.7 362.1,786.8 362.7,783.8 363.3,780.8 363.9,777.8 364.5,774.9 365.1,771.9 365.7,768.9 366.3,765.9 366.9,762.9 367.4,760.0 368.0,757.0 368.5,754.0 369.0,751.0 369.5,748.1 370.0,745.1 370.5,742.1 370.9,739.2 371.4,736.2 371.9,733.2 372.3,730.2 372.7,727.3 373.2,724.3 373.6,721.3 374.0,718.3 374.4,715.4 374.9,712.4 375.3,709.4 375.7,706.4 376.1,703.5 376.5,700.5 376.9,697.4 377.4,694.2 377.8,691.1 378.2,687.9 378.6,684.8 379.0,681.6 379.4,678.5 379.8,675.3 380.2,672.2 380.6,669.0 381.0,665.9 381.4,662.7 381.7,659.6 382.1,656.4 382.5,653.3 382.8,650.1 383.2,647.0 383.5,643.9 383.9,640.7 384.2,637.6 384.5,634.4 384.9,631.3 385.2,628.1 385.5,625.0 385.8,621.8 386.1,618.7 386.4,615.5 386.7,612.4 387.0,609.2 387.3,606.1 387.6,602.9 387.9,599.8 388.2,596.6 388.5,593.5 388.8,590.4 389.1,587.2 389.4,584.1 389.7,581.0 390.1,577.9 390.4,574.8 390.7,571.7 391.0,568.6 391.3,565.5 391.6,562.4 391.9,559.3 392.2,556.1 392.6,553.0 392.9,549.8 393.2,546.5 393.6,543.3 393.9,540.0 394.2,537.0 394.5,534.0 394.8,530.8 395.1,527.7 395.4,524.5 395.6,521.2 395.9,518.0 396.2,514.7 396.5,511.4 396.8,508.1 397.1,504.9 397.4,501.6 397.7,498.4 398.1,495.2 398.4,492.1 398.8,489.0 399.2,486.0 399.6,483.1 400.0,480.2 400.4,477.5 400.9,474.8 401.6,471.5 402.3,468.2 403.1,465.1 403.9,462.1 404.8,459.1 405.6,456.2 406.5,453.4 407.3,450.6 408.1,447.9 408.9,445.2 409.6,442.6 410.2,440.0 410.9,436.7 411.4,433.8 411.9,431.0 412.3,428.2 412.8,425.2 413.4,421.8 414.3,418.0 414.8,416.0 415.3,413.8 415.9,411.6 416.5,409.2 417.1,406.7 417.8,404.1 418.5,401.4 419.3,398.7 420.1,395.8 420.9,392.9 421.7,390.0 422.5,386.9 423.4,383.8 424.3,380.7 425.2,377.6 426.1,374.4 427.1,371.2 428.0,368.0 429.0,364.7 429.9,361.5 430.9,358.3 431.9,355.1 432.8,351.9 433.8,348.8 434.7,345.7 435.7,342.6 436.6,339.6 437.6,336.7 438.5,333.8 439.4,331.0 440.4,328.0 441.3,325.1 442.3,322.2 443.3,319.2 444.3,316.3 445.3,313.4 446.3,310.6 447.3,307.7 448.3,304.8 449.3,302.0 450.3,299.1 451.3,296.3 452.4,293.5 453.4,290.7 454.4,287.9 455.5,285.1 456.5,282.3 457.5,279.5 458.6,276.7 459.7,273.9 460.7,271.2 461.8,268.4 462.9,265.6 463.9,262.9 465.0,260.1 466.1,257.4 467.3,254.5 468.5,251.6 469.7,248.7 471.0,245.7 472.3,242.7 473.6,239.8 475.0,236.8 476.4,233.8 477.7,230.8 479.1,227.8 480.5,224.9 481.8,221.9 483.1,219.1 484.4,216.2 485.7,213.4 486.9,210.6 488.1,207.9 489.3,205.3 490.4,202.7 491.4,200.2 492.3,197.7 493.2,195.4 494.0,193.2 494.7,191.0 495.7,187.5 496.5,184.4 497.0,181.4 497.5,178.6 497.9,175.9 498.4,173.1 498.9,170.2 499.6,167.0 500.3,164.2 501.0,161.2 501.7,158.1 502.5,154.9 503.3,151.6 504.1,148.4 505.0,145.1 505.9,141.9 506.8,138.8 507.7,135.8 508.6,133.0 509.6,130.3 510.9,126.9 512.2,123.5 513.5,120.2 514.9,117.2 516.4,114.4 517.9,112.1 519.6,110.2 522.2,108.2 525.0,107.0 528.0,106.9 530.3,107.6 532.9,109.0 535.5,111.0 538.1,113.3 540.6,115.9 543.0,118.6 544.7,120.9 546.2,123.6 547.6,126.5 548.9,129.6 550.2,132.8 551.5,136.0 552.9,139.1 554.5,142.0 556.1,144.7 558.0,147.0 560.4,149.1 563.0,150.9 565.8,152.4 568.6,153.7 571.5,155.1 574.3,156.5 576.9,158.1 579.3,160.0 581.4,162.2 583.3,164.5 585.0,166.9 586.7,169.5 588.3,172.1 589.9,174.9 591.5,177.7 593.2,180.5 594.7,183.1 596.3,186.0 597.8,189.1 599.4,192.3 601.0,195.5 602.6,198.7 604.1,201.7 605.7,204.5 607.2,207.0 608.6,209.0 610.0,210.6 613.1,212.9 616.6,213.9 619.2,213.9 622.2,213.3 625.4,212.6 628.6,212.1 631.7,212.2 634.8,213.5 637.8,215.7 640.7,218.1 643.7,219.9 646.7,220.6 649.2,220.0 651.9,218.7 654.5,216.8 657.2,214.6 659.7,212.2 661.9,210.0 663.9,208.0 666.3,205.3 668.3,202.5 670.3,199.5 671.9,197.2 673.5,194.7 675.2,192.0 676.9,189.2 678.6,186.3 680.4,183.3 681.9,180.6 683.4,177.7 685.0,174.6 686.5,171.4 688.1,168.3 689.7,165.2 691.3,162.2 692.9,159.5 694.5,157.1 696.5,154.3 698.5,151.7 700.4,149.3 702.5,147.4 704.6,146.0 707.6,144.9 710.6,144.6 713.7,145.0 716.4,146.6 718.9,149.2 721.7,151.7 724.8,153.0 727.3,152.9 730.2,152.1 733.2,150.7 736.3,149.1 739.5,147.4 742.7,145.7 745.7,144.2 748.5,143.2 752.4,142.1 756.1,141.3 759.6,140.9 763.2,140.9 766.1,141.4 769.0,142.2 771.8,143.3 774.6,144.6 777.4,146.0 780.3,148.1 783.2,150.8 786.0,153.6 788.8,155.9 791.5,157.1 794.9,156.8 798.2,155.3 801.6,154.0 804.9,153.5 808.1,153.1 811.7,152.0 814.1,150.6 816.6,148.5 819.2,146.1 822.0,143.5 824.7,140.9 827.6,138.6 830.3,136.9 833.1,136.0 836.2,136.0 839.3,137.0 842.5,138.4 845.6,140.0 848.8,141.3 852.1,141.9 855.2,141.7 858.4,141.1 861.7,140.2 864.9,139.1 868.1,138.1 871.3,137.3 874.3,136.9 877.7,137.1 881.1,137.8 884.4,138.6 887.5,139.1 890.5,138.9 893.7,137.7 896.7,135.7 899.6,133.4 902.6,130.8 904.7,128.7 906.7,126.1 908.7,123.3 910.8,120.5 912.9,118.0 915.2,116.1 917.7,115.0 920.3,115.0 923.2,115.8 926.2,117.3 929.3,119.1 932.4,120.9 935.5,122.4 938.4,123.5 941.0,123.7 944.1,122.7 947.0,120.9 949.8,118.6 952.5,116.3 955.2,114.6 958.2,113.3 961.1,112.1 964.1,111.2 967.3,110.6 970.3,110.4 973.5,110.6 976.8,110.8 980.1,110.9 983.4,110.6 986.5,109.7 989.7,108.4 992.9,106.9 996.1,105.3 999.2,103.9 1002.2,102.8 1005.6,102.0 1008.9,101.5 1012.1,101.1 1015.6,100.2 1018.4,99.2 1021.4,97.9 1024.5,96.4 1027.6,94.8 1030.6,93.4 1033.3,92.1 1035.8,91.1 1040.0,89.6 1043.8,89.1 1047.2,90.0 1050.8,91.6 1054.2,93.4 1057.1,95.4 1060.0,97.5 1063.3,98.5 1065.7,98.0 1068.5,96.8 1071.5,95.0 1074.7,92.9 1077.9,90.7 1081.0,88.6 1084.0,86.9 1086.8,85.8 1090.5,85.1 1094.0,85.0 1097.4,85.2 1100.7,85.4 1103.8,85.4 1106.9,85.5 1109.9,85.8 1112.8,86.4 1116.2,88.1 1119.4,90.3 1122.9,92.4 1125.6,93.8 1128.5,95.4 1131.4,96.9 1134.4,98.0 1137.1,98.5 1140.6,97.9 1143.9,96.5 1147.2,95.5 1150.5,95.6 1153.8,96.1 1157.3,96.5 1160.6,96.4 1164.1,96.0 1167.7,95.9 1171.4,96.5 1173.9,97.6 1176.4,99.2 1179.0,101.2 1181.6,103.4 1184.2,105.5 1186.8,107.4 1189.2,108.8 1191.6,109.6 1194.9,109.8 1198.1,109.3 1201.1,108.3 1203.7,106.6 1205.4,104.6 1206.6,102.0 1207.7,99.1 1208.8,96.0 1210.1,93.0 1211.8,90.4 1213.8,88.3 1216.1,86.2 1218.6,84.2 1221.3,82.4 1224.1,80.8 1227.0,79.3 1230.0,78.0 1233.0,77.0 1236.3,76.4 1239.8,75.9 1243.4,75.6 1246.9,75.4 1250.2,75.0 1253.3,74.6 1256.0,74.0 1259.8,72.3 1262.9,70.5 1266.4,69.2 1269.5,68.7 1272.8,68.5 1276.3,68.6 1279.6,69.1 1282.5,70.2 1284.9,72.1 1286.8,74.8 1288.6,77.9 1290.4,81.1 1292.6,84.3 1294.4,86.6 1296.4,89.3 1298.5,92.1 1300.7,94.9 1302.9,97.7 1305.0,100.3 1307.1,102.5 1309.1,104.4 1310.8,105.6 1313.8,106.7 1316.9,106.6 1319.7,106.1 1322.9,105.1 1326.1,103.6 1329.0,101.5 1330.7,99.3 1332.1,96.3 1333.4,92.8 1334.6,89.2 1335.8,85.6 1337.1,82.3 1338.7,79.6 1340.6,77.8 1343.5,76.6 1346.9,76.3 1350.4,76.6 1354.0,77.3 1357.3,78.3 1360.1,79.9 1362.9,82.3 1365.6,85.1 1368.2,87.7 1370.8,89.6 1373.4,90.4 1376.3,89.5 1379.1,87.4 1381.9,84.6 1384.8,82.0 1387.6,80.3 1390.6,79.5 1393.7,79.1 1396.8,79.1 1399.7,79.3 1403.1,80.2 1406.3,81.4 1409.8,82.3 1412.7,82.4 1415.8,82.2 1419.0,81.9 1422.2,81.3 1425.1,80.7 1429.0,79.3 1432.5,77.7 1435.9,76.5 1439.4,75.9 1442.7,76.0 1445.4,77.0 1448.1,78.7 1450.9,80.5 1453.5,82.1 1456.1,83.9 1458.9,85.7 1461.8,87.5 1464.3,88.9 1467.0,90.2 1469.8,91.5 1472.6,92.9 1475.4,94.2 1478.2,95.5 1481.5,97.1 1484.7,98.9 1488.0,100.6 1491.2,102.0 1494.5,103.0 1497.7,103.7 1501.0,104.2 1504.2,104.5 1507.2,104.2 1509.7,103.4 1511.8,101.4 1513.4,98.5 1514.8,95.3 1516.4,92.3 1518.3,89.3 1520.2,86.3 1522.2,83.4 1524.5,81.0 1527.5,78.5 1530.7,76.5 1534.1,75.5 1537.7,75.7 1541.5,76.8 1545.0,78.5 1547.5,80.4 1549.8,82.8 1552.0,85.5 1554.6,88.2 1556.5,90.2 1558.5,92.5 1560.6,94.9 1562.8,97.3 1565.0,99.6 1567.4,101.7 1569.8,103.4 1572.3,104.5 1575.2,105.0 1578.3,105.0 1581.4,104.5 1584.7,103.8 1587.9,102.9 1591.2,102.2 1594.3,101.8 1597.7,101.6 1601.1,101.4 1604.5,101.3 1607.9,101.3 1611.2,101.2 1614.5,101.1 1618.2,101.1 1621.9,101.1 1625.6,101.2 1629.1,101.0 1632.3,100.5 1636.2,98.9 1639.7,96.8 1643.2,95.7 1646.3,96.3 1649.4,97.8 1652.7,99.1 1655.6,99.6 1658.7,100.0 1661.9,100.4 1665.0,101.1 1667.7,102.1 1670.4,103.3 1673.1,104.7 1675.9,106.2 1678.9,107.6 1681.7,109.0 1684.7,110.8 1687.7,112.6 1690.9,114.3 1694.1,115.7 1697.5,116.6 1700.9,116.8 1703.4,116.4 1706.0,115.5 1708.6,114.2 1711.3,112.6 1714.1,110.7 1716.9,108.7 1719.7,106.6 1722.6,104.5 1725.4,102.5 1728.2,100.7 1731.0,99.1 1733.7,97.8 1736.4,97.0 1739.6,96.3 1742.9,95.8 1746.2,95.4 1749.5,95.3 1752.7,95.3 1755.8,95.7 1758.7,96.3 1761.3,97.2 1763.5,98.5 1765.5,100.6 1767.0,103.3 1768.1,106.5 1769.0,110.0 1769.8,113.7 1770.7,117.3 1771.8,120.7 1773.2,123.6 1775.1,126.5 1777.1,129.4 1779.3,132.3 1781.6,134.9 1783.9,137.2 1786.1,138.9 1788.2,140.0 1792.4,140.1 1796.4,138.6 1799.1,137.0 1801.7,134.8 1804.6,131.8 1806.0,130.0 1807.5,127.8 1809.0,125.1 1810.6,122.1 1812.3,118.8 1814.0,115.4 1815.8,112.0 1817.6,108.6 1819.4,105.2 1821.3,102.1 1823.1,99.2 1825.0,96.7 1826.9,94.7 1828.7,93.2 1830.5,92.3 1833.3,92.1 1836.2,92.9 1839.0,94.4 1841.9,96.3 1844.9,98.2 1848.0,99.8 1851.0,101.0 1854.2,102.3 1857.5,103.7 1860.9,105.1 1864.2,106.4 1867.4,107.7 1870.2,108.9 1872.7,110.0 1875.7,111.9 1878.2,113.6 1881.0,114.0 1882.7,113.3 1884.6,111.8 1886.5,109.7 1888.6,107.1 1890.8,104.2 1893.0,101.1 1895.2,97.9 1897.4,94.8 1899.6,91.9 1901.7,89.2 1903.6,87.1 1905.5,85.5 1909.2,83.4 1912.6,82.3 1916.4,81.4 1919.2,80.9 1922.2,80.6 1925.4,80.4 1928.6,80.3 1931.8,80.2 1935.0,80.0" stroke="#FF0080" stroke-width="10"/>
</g><g clip-path="url(#cm)">
<polygon points="241.0,1258.5 266.5,1302.5 215.5,1302.5" fill="#FF0080"/>
<polygon points="325.6,950.8 351.1,994.8 300.1,994.8" fill="#FF0080"/>
<polygon points="410.2,417.7 435.7,461.7 384.7,461.7" fill="#FF0080"/>
<polygon points="494.7,169.3 520.2,213.3 469.2,213.3" fill="#FF0080"/>
<polygon points="579.3,134.2 604.8,178.2 553.8,178.2" fill="#FF0080"/>
<polygon points="663.9,186.0 689.4,230.0 638.4,230.0" fill="#FF0080"/>
<polygon points="748.5,121.2 774.0,165.2 723.0,165.2" fill="#FF0080"/>
<polygon points="833.1,111.7 858.6,155.7 807.6,155.7" fill="#FF0080"/>
<polygon points="917.6,89.0 943.1,133.0 892.1,133.0" fill="#FF0080"/>
<polygon points="1002.2,80.8 1027.7,124.8 976.7,124.8" fill="#FF0080"/>
<polygon points="1086.8,63.8 1112.3,107.8 1061.3,107.8" fill="#FF0080"/>
<polygon points="1171.4,74.0 1196.9,118.0 1145.9,118.0" fill="#FF0080"/>
<polygon points="1256.0,52.0 1281.5,96.0 1230.5,96.0" fill="#FF0080"/>
<polygon points="1340.5,55.8 1366.0,99.8 1315.0,99.8" fill="#FF0080"/>
<polygon points="1425.1,58.7 1450.6,102.7 1399.6,102.7" fill="#FF0080"/>
<polygon points="1509.7,81.4 1535.2,125.4 1484.2,125.4" fill="#FF0080"/>
<polygon points="1594.3,79.8 1619.8,123.8 1568.8,123.8" fill="#FF0080"/>
<polygon points="1678.9,85.6 1704.4,129.6 1653.4,129.6" fill="#FF0080"/>
<polygon points="1763.4,76.5 1788.9,120.5 1737.9,120.5" fill="#FF0080"/>
<polygon points="1848.0,77.8 1873.5,121.8 1822.5,121.8" fill="#FF0080"/>
<polygon points="1932.6,65.0 1958.1,109.0 1907.1,109.0" fill="#FF0080"/>
</g>
<rect x="736.5" y="489.0" width="1019.0" height="679.5" fill="none" stroke="#000" stroke-width="7"/>
<path d="M736.5,1168.5H722.5M736.5,1083.6H729.5M736.5,998.6H722.5M736.5,913.7H729.5M736.5,828.8H722.5M736.5,743.8H729.5M736.5,658.9H722.5M736.5,573.9H729.5M736.5,489.0H722.5M804.4,1168.5V1181.5M872.4,1168.5V1175.5M940.3,1168.5V1181.5M1008.2,1168.5V1175.5M1076.2,1168.5V1181.5M1144.1,1168.5V1175.5M1212.0,1168.5V1181.5M1280.0,1168.5V1175.5M1347.9,1168.5V1181.5M1415.8,1168.5V1175.5M1483.8,1168.5V1181.5M1551.7,1168.5V1175.5M1619.6,1168.5V1181.5M1687.6,1168.5V1175.5M1755.5,1168.5V1181.5M1755.5,1168.5V1181.5" stroke="#000" stroke-width="7" stroke-linecap="round" fill="none"/>
<g clip-path="url(#ci)">
<polyline points="1339.7,519.6 1327.2,647.0 1314.9,752.3 1302.6,855.1 1290.5,958.7 1278.5,1038.3 1266.7,1094.0 1254.9,1127.5 1243.3,1145.6 1231.8,1155.5 1220.5,1159.5 1209.2,1161.7 1198.1,1162.6 1187.1,1163.0 1176.2,1163.2 1165.4,1163.4 1154.7,1163.6 1144.1,1163.8 1133.6,1164.1 1123.2,1164.4 1113.0,1166.0 1102.8,1167.2 1092.7,1167.8 1082.8,1168.5 1072.9,1168.5 1063.1,1168.5 1053.4,1168.5 1043.8,1168.5 1034.3,1168.5 1024.9,1168.5 1015.6,1168.5 1006.3,1168.5 997.2,1168.5 988.1,1168.5 979.1,1168.5 970.2,1168.5 961.4,1168.5 952.7,1168.5 944.0,1168.5 935.4,1168.5 926.9,1168.5 918.5,1168.5 910.1,1168.5 901.8,1168.5 893.6,1168.5 885.5,1168.5 877.4,1168.5 869.4,1168.5 861.5,1168.5 853.6,1168.5 845.8,1168.5 838.1,1168.5 830.5,1168.5 822.9,1168.5 815.3,1168.5 807.9,1168.5 800.5,1168.5 793.1,1168.5 785.8,1168.5 778.6,1168.5 771.4,1168.5 764.3,1168.5 757.3,1168.5 750.3,1168.5 743.4,1168.5 736.5,1168.5 729.7,1168.5 722.9,1168.5" stroke="#000" stroke-width="6" fill="none" stroke-linejoin="round"/>
<rect x="1327.7" y="509.1" width="24" height="21" fill="#000"/>
<rect x="1315.2" y="636.5" width="24" height="21" fill="#000"/>
<rect x="1302.9" y="741.8" width="24" height="21" fill="#000"/>
<rect x="1290.6" y="844.6" width="24" height="21" fill="#000"/>
<rect x="1278.5" y="948.2" width="24" height="21" fill="#000"/>
<rect x="1266.5" y="1027.8" width="24" height="21" fill="#000"/>
<rect x="1254.7" y="1083.5" width="24" height="21" fill="#000"/>
<rect x="1242.9" y="1117.0" width="24" height="21" fill="#000"/>
<rect x="1231.3" y="1135.1" width="24" height="21" fill="#000"/>
<rect x="1219.8" y="1145.0" width="24" height="21" fill="#000"/>
<rect x="1208.5" y="1149.0" width="24" height="21" fill="#000"/>
<rect x="1197.2" y="1151.2" width="24" height="21" fill="#000"/>
<rect x="1186.1" y="1152.1" width="24" height="21" fill="#000"/>
<rect x="1175.1" y="1152.5" width="24" height="21" fill="#000"/>
<rect x="1164.2" y="1152.7" width="24" height="21" fill="#000"/>
<rect x="1153.4" y="1152.9" width="24" height="21" fill="#000"/>
<rect x="1142.7" y="1153.1" width="24" height="21" fill="#000"/>
<rect x="1132.1" y="1153.3" width="24" height="21" fill="#000"/>
<rect x="1121.6" y="1153.6" width="24" height="21" fill="#000"/>
<rect x="1111.2" y="1153.9" width="24" height="21" fill="#000"/>
<rect x="1101.0" y="1155.5" width="24" height="21" fill="#000"/>
<rect x="1090.8" y="1156.7" width="24" height="21" fill="#000"/>
<rect x="1080.7" y="1157.3" width="24" height="21" fill="#000"/>
<rect x="1070.8" y="1158.0" width="24" height="21" fill="#000"/>
<rect x="1060.9" y="1158.0" width="24" height="21" fill="#000"/>
<rect x="1051.1" y="1158.0" width="24" height="21" fill="#000"/>
<rect x="1041.4" y="1158.0" width="24" height="21" fill="#000"/>
<rect x="1031.8" y="1158.0" width="24" height="21" fill="#000"/>
<rect x="1022.3" y="1158.0" width="24" height="21" fill="#000"/>
<rect x="1012.9" y="1158.0" width="24" height="21" fill="#000"/>
<rect x="1003.6" y="1158.0" width="24" height="21" fill="#000"/>
<rect x="994.3" y="1158.0" width="24" height="21" fill="#000"/>
<rect x="985.2" y="1158.0" width="24" height="21" fill="#000"/>
<rect x="976.1" y="1158.0" width="24" height="21" fill="#000"/>
<rect x="967.1" y="1158.0" width="24" height="21" fill="#000"/>
<rect x="958.2" y="1158.0" width="24" height="21" fill="#000"/>
<rect x="949.4" y="1158.0" width="24" height="21" fill="#000"/>
<rect x="940.7" y="1158.0" width="24" height="21" fill="#000"/>
<rect x="932.0" y="1158.0" width="24" height="21" fill="#000"/>
<rect x="923.4" y="1158.0" width="24" height="21" fill="#000"/>
<rect x="914.9" y="1158.0" width="24" height="21" fill="#000"/>
<rect x="906.5" y="1158.0" width="24" height="21" fill="#000"/>
<rect x="898.1" y="1158.0" width="24" height="21" fill="#000"/>
<rect x="889.8" y="1158.0" width="24" height="21" fill="#000"/>
<rect x="881.6" y="1158.0" width="24" height="21" fill="#000"/>
<rect x="873.5" y="1158.0" width="24" height="21" fill="#000"/>
<rect x="865.4" y="1158.0" width="24" height="21" fill="#000"/>
<rect x="857.4" y="1158.0" width="24" height="21" fill="#000"/>
<rect x="849.5" y="1158.0" width="24" height="21" fill="#000"/>
<rect x="841.6" y="1158.0" width="24" height="21" fill="#000"/>
<rect x="833.8" y="1158.0" width="24" height="21" fill="#000"/>
<rect x="826.1" y="1158.0" width="24" height="21" fill="#000"/>
<rect x="818.5" y="1158.0" width="24" height="21" fill="#000"/>
<rect x="810.9" y="1158.0" width="24" height="21" fill="#000"/>
<rect x="803.3" y="1158.0" width="24" height="21" fill="#000"/>
<rect x="795.9" y="1158.0" width="24" height="21" fill="#000"/>
<rect x="788.5" y="1158.0" width="24" height="21" fill="#000"/>
<rect x="781.1" y="1158.0" width="24" height="21" fill="#000"/>
<rect x="773.8" y="1158.0" width="24" height="21" fill="#000"/>
<rect x="766.6" y="1158.0" width="24" height="21" fill="#000"/>
<rect x="759.4" y="1158.0" width="24" height="21" fill="#000"/>
<rect x="752.3" y="1158.0" width="24" height="21" fill="#000"/>
<rect x="745.3" y="1158.0" width="24" height="21" fill="#000"/>
<rect x="738.3" y="1158.0" width="24" height="21" fill="#000"/>
<rect x="731.4" y="1158.0" width="24" height="21" fill="#000"/>
<rect x="724.5" y="1158.0" width="24" height="21" fill="#000"/>
<rect x="717.7" y="1158.0" width="24" height="21" fill="#000"/>
<rect x="710.9" y="1158.0" width="24" height="21" fill="#000"/>
<polyline points="1391.2,516.5 1378.1,625.5 1365.2,763.3 1352.4,865.4 1339.7,951.0 1327.2,1002.8 1314.9,1054.1 1302.6,1099.2 1290.5,1125.0 1278.5,1140.0 1266.7,1146.8 1254.9,1151.5 1243.3,1156.6 1231.8,1162.1 1220.5,1164.3 1209.2,1165.1 1198.1,1165.5 1187.1,1165.8 1176.2,1166.0 1165.4,1166.0 1154.7,1166.0 1144.1,1166.0 1133.6,1166.1 1123.2,1166.3 1113.0,1166.5 1102.8,1166.6 1092.7,1166.8 1082.8,1167.1 1072.9,1167.5 1063.1,1167.8 1053.4,1168.1 1043.8,1168.5 1034.3,1168.5 1024.9,1168.5 1015.6,1168.5 1006.3,1168.5 997.2,1168.5 988.1,1168.5 979.1,1168.5 970.2,1168.5 961.4,1168.5 952.7,1168.5 944.0,1168.5 935.4,1168.5 926.9,1168.5 918.5,1168.5 910.1,1168.5 901.8,1168.5 893.6,1168.5 885.5,1168.5 877.4,1168.5 869.4,1168.5 861.5,1168.5 853.6,1168.5 845.8,1168.5 838.1,1168.5 830.5,1168.5 822.9,1168.5 815.3,1168.5 807.9,1168.5 800.5,1168.5 793.1,1168.5 785.8,1168.5 778.6,1168.5 771.4,1168.5 764.3,1168.5 757.3,1168.5 750.3,1168.5 743.4,1168.5 736.5,1168.5 729.7,1168.5 722.9,1168.5" stroke="#0000FF" stroke-width="6" fill="none" stroke-linejoin="round"/>
<ellipse cx="1391.2" cy="516.5" rx="13" ry="11.6" fill="#0000FF"/>
<ellipse cx="1378.1" cy="625.5" rx="13" ry="11.6" fill="#0000FF"/>
<ellipse cx="1365.2" cy="763.3" rx="13" ry="11.6" fill="#0000FF"/>
<ellipse cx="1352.4" cy="865.4" rx="13" ry="11.6" fill="#0000FF"/>
<ellipse cx="1339.7" cy="951.0" rx="13" ry="11.6" fill="#0000FF"/>
<ellipse cx="1327.2" cy="1002.8" rx="13" ry="11.6" fill="#0000FF"/>
<ellipse cx="1314.9" cy="1054.1" rx="13" ry="11.6" fill="#0000FF"/>
<ellipse cx="1302.6" cy="1099.2" rx="13" ry="11.6" fill="#0000FF"/>
<ellipse cx="1290.5" cy="1125.0" rx="13" ry="11.6" fill="#0000FF"/>
<ellipse cx="1278.5" cy="1140.0" rx="13" ry="11.6" fill="#0000FF"/>
<ellipse cx="1266.7" cy="1146.8" rx="13" ry="11.6" fill="#0000FF"/>
<ellipse cx="1254.9" cy="1151.5" rx="13" ry="11.6" fill="#0000FF"/>
<ellipse cx="1243.3" cy="1156.6" rx="13" ry="11.6" fill="#0000FF"/>
<ellipse cx="1231.8" cy="1162.1" rx="13" ry="11.6" fill="#0000FF"/>
<ellipse cx="1220.5" cy="1164.3" rx="13" ry="11.6" fill="#0000FF"/>
<ellipse cx="1209.2" cy="1165.1" rx="13" ry="11.6" fill="#0000FF"/>
<ellipse cx="1198.1" cy="1165.5" rx="13" ry="11.6" fill="#0000FF"/>
<ellipse cx="1187.1" cy="1165.8" rx="13" ry="11.6" fill="#0000FF"/>
<ellipse cx="1176.2" cy="1166.0" rx="13" ry="11.6" fill="#0000FF"/>
<ellipse cx="1165.4" cy="1166.0" rx="13" ry="11.6" fill="#0000FF"/>
<ellipse cx="1154.7" cy="1166.0" rx="13" ry="11.6" fill="#0000FF"/>
<ellipse cx="1144.1" cy="1166.0" rx="13" ry="11.6" fill="#0000FF"/>
<ellipse cx="1133.6" cy="1166.1" rx="13" ry="11.6" fill="#0000FF"/>
<ellipse cx="1123.2" cy="1166.3" rx="13" ry="11.6" fill="#0000FF"/>
<ellipse cx="1113.0" cy="1166.5" rx="13" ry="11.6" fill="#0000FF"/>
<ellipse cx="1102.8" cy="1166.6" rx="13" ry="11.6" fill="#0000FF"/>
<ellipse cx="1092.7" cy="1166.8" rx="13" ry="11.6" fill="#0000FF"/>
<ellipse cx="1082.8" cy="1167.1" rx="13" ry="11.6" fill="#0000FF"/>
<ellipse cx="1072.9" cy="1167.5" rx="13" ry="11.6" fill="#0000FF"/>
<ellipse cx="1063.1" cy="1167.8" rx="13" ry="11.6" fill="#0000FF"/>
<ellipse cx="1053.4" cy="1168.1" rx="13" ry="11.6" fill="#0000FF"/>
<ellipse cx="1043.8" cy="1168.5" rx="13" ry="11.6" fill="#0000FF"/>
<ellipse cx="1034.3" cy="1168.5" rx="13" ry="11.6" fill="#0000FF"/>
<ellipse cx="1024.9" cy="1168.5" rx="13" ry="11.6" fill="#0000FF"/>
<ellipse cx="1015.6" cy="1168.5" rx="13" ry="11.6" fill="#0000FF"/>
<ellipse cx="1006.3" cy="1168.5" rx="13" ry="11.6" fill="#0000FF"/>
<ellipse cx="997.2" cy="1168.5" rx="13" ry="11.6" fill="#0000FF"/>
<ellipse cx="988.1" cy="1168.5" rx="13" ry="11.6" fill="#0000FF"/>
<ellipse cx="979.1" cy="1168.5" rx="13" ry="11.6" fill="#0000FF"/>
<ellipse cx="970.2" cy="1168.5" rx="13" ry="11.6" fill="#0000FF"/>
<ellipse cx="961.4" cy="1168.5" rx="13" ry="11.6" fill="#0000FF"/>
<ellipse cx="952.7" cy="1168.5" rx="13" ry="11.6" fill="#0000FF"/>
<ellipse cx="944.0" cy="1168.5" rx="13" ry="11.6" fill="#0000FF"/>
<ellipse cx="935.4" cy="1168.5" rx="13" ry="11.6" fill="#0000FF"/>
<ellipse cx="926.9" cy="1168.5" rx="13" ry="11.6" fill="#0000FF"/>
<ellipse cx="918.5" cy="1168.5" rx="13" ry="11.6" fill="#0000FF"/>
<ellipse cx="910.1" cy="1168.5" rx="13" ry="11.6" fill="#0000FF"/>
<ellipse cx="901.8" cy="1168.5" rx="13" ry="11.6" fill="#0000FF"/>
<ellipse cx="893.6" cy="1168.5" rx="13" ry="11.6" fill="#0000FF"/>
<ellipse cx="885.5" cy="1168.5" rx="13" ry="11.6" fill="#0000FF"/>
<ellipse cx="877.4" cy="1168.5" rx="13" ry="11.6" fill="#0000FF"/>
<ellipse cx="869.4" cy="1168.5" rx="13" ry="11.6" fill="#0000FF"/>
<ellipse cx="861.5" cy="1168.5" rx="13" ry="11.6" fill="#0000FF"/>
<ellipse cx="853.6" cy="1168.5" rx="13" ry="11.6" fill="#0000FF"/>
<ellipse cx="845.8" cy="1168.5" rx="13" ry="11.6" fill="#0000FF"/>
<ellipse cx="838.1" cy="1168.5" rx="13" ry="11.6" fill="#0000FF"/>
<ellipse cx="830.5" cy="1168.5" rx="13" ry="11.6" fill="#0000FF"/>
<ellipse cx="822.9" cy="1168.5" rx="13" ry="11.6" fill="#0000FF"/>
<ellipse cx="815.3" cy="1168.5" rx="13" ry="11.6" fill="#0000FF"/>
<ellipse cx="807.9" cy="1168.5" rx="13" ry="11.6" fill="#0000FF"/>
<ellipse cx="800.5" cy="1168.5" rx="13" ry="11.6" fill="#0000FF"/>
<ellipse cx="793.1" cy="1168.5" rx="13" ry="11.6" fill="#0000FF"/>
<ellipse cx="785.8" cy="1168.5" rx="13" ry="11.6" fill="#0000FF"/>
<ellipse cx="778.6" cy="1168.5" rx="13" ry="11.6" fill="#0000FF"/>
<ellipse cx="771.4" cy="1168.5" rx="13" ry="11.6" fill="#0000FF"/>
<ellipse cx="764.3" cy="1168.5" rx="13" ry="11.6" fill="#0000FF"/>
<ellipse cx="757.3" cy="1168.5" rx="13" ry="11.6" fill="#0000FF"/>
<ellipse cx="750.3" cy="1168.5" rx="13" ry="11.6" fill="#0000FF"/>
<ellipse cx="743.4" cy="1168.5" rx="13" ry="11.6" fill="#0000FF"/>
<ellipse cx="736.5" cy="1168.5" rx="13" ry="11.6" fill="#0000FF"/>
<ellipse cx="729.7" cy="1168.5" rx="13" ry="11.6" fill="#0000FF"/>
<ellipse cx="722.9" cy="1168.5" rx="13" ry="11.6" fill="#0000FF"/>
<polyline points="1720.9,503.4 1703.9,791.4 1687.1,934.9 1670.6,1009.4 1654.2,1047.0 1638.1,1070.0 1622.1,1087.0 1606.4,1101.5 1590.8,1113.1 1575.4,1122.6 1560.2,1132.5 1545.2,1141.7 1530.4,1149.2 1515.7,1154.5 1501.2,1157.0 1486.9,1158.3 1472.8,1159.2 1458.8,1160.0 1444.9,1160.9 1431.3,1161.7 1417.8,1162.6 1404.4,1163.2 1391.2,1163.7 1378.1,1164.3 1365.2,1164.3 1352.4,1164.3 1339.7,1164.3 1327.2,1164.3 1314.9,1164.3 1302.6,1164.3 1290.5,1164.3 1278.5,1164.3 1266.7,1164.3 1254.9,1164.3 1243.3,1164.3 1231.8,1164.3 1220.5,1164.3 1209.2,1164.3 1198.1,1164.3 1187.1,1164.3 1176.2,1164.3 1165.4,1164.3 1154.7,1164.3 1144.1,1164.3 1133.6,1164.3 1123.2,1164.3 1113.0,1164.3 1102.8,1164.3 1092.7,1164.3 1082.8,1164.3 1072.9,1164.3 1063.1,1164.3 1053.4,1164.3 1043.8,1164.3 1034.3,1164.3 1024.9,1164.3 1015.6,1164.3 1006.3,1164.3 997.2,1164.3 988.1,1164.3 979.1,1164.3 970.2,1164.3 961.4,1164.3 952.7,1164.3 944.0,1164.3 935.4,1164.3 926.9,1164.3 918.5,1164.3 910.1,1164.3 901.8,1164.3 893.6,1164.3 885.5,1164.3 877.4,1164.3 869.4,1164.3 861.5,1164.3 853.6,1164.3 845.8,1164.3 838.1,1164.3 830.5,1164.3 822.9,1164.3 815.3,1164.3 807.9,1164.3 800.5,1164.3 793.1,1164.3 785.8,1164.3 778.6,1164.3 771.4,1164.3 764.3,1164.3 757.3,1164.3 750.3,1164.3 743.4,1164.3 736.5,1164.3 729.7,1164.3 722.9,1164.3" stroke="#FF0080" stroke-width="6" fill="none" stroke-linejoin="round"/>
<polygon points="1720.9,490.9 1736.4,515.9 1705.4,515.9" fill="#FF0080"/>
<polygon points="1703.9,778.9 1719.4,803.9 1688.4,803.9" fill="#FF0080"/>
<polygon points="1687.1,922.4 1702.6,947.4 1671.6,947.4" fill="#FF0080"/>
<polygon points="1670.6,996.9 1686.1,1021.9 1655.1,1021.9" fill="#FF0080"/>
<polygon points="1654.2,1034.5 1669.7,1059.5 1638.7,1059.5" fill="#FF0080"/>
<polygon points="1638.1,1057.5 1653.6,1082.5 1622.6,1082.5" fill="#FF0080"/>
<polygon points="1622.1,1074.5 1637.6,1099.5 1606.6,1099.5" fill="#FF0080"/>
<polygon points="1606.4,1089.0 1621.9,1114.0 1590.9,1114.0" fill="#FF0080"/>
<polygon points="1590.8,1100.6 1606.3,1125.6 1575.3,1125.6" fill="#FF0080"/>
<polygon points="1575.4,1110.1 1590.9,1135.1 1559.9,1135.1" fill="#FF0080"/>
<polygon points="1560.2,1120.0 1575.7,1145.0 1544.7,1145.0" fill="#FF0080"/>
<polygon points="1545.2,1129.2 1560.7,1154.2 1529.7,1154.2" fill="#FF0080"/>
<polygon points="1530.4,1136.7 1545.9,1161.7 1514.9,1161.7" fill="#FF0080"/>
<polygon points="1515.7,1142.0 1531.2,1167.0 1500.2,1167.0" fill="#FF0080"/>
<polygon points="1501.2,1144.5 1516.7,1169.5 1485.7,1169.5" fill="#FF0080"/>
<polygon points="1486.9,1145.8 1502.4,1170.8 1471.4,1170.8" fill="#FF0080"/>
<polygon points="1472.8,1146.7 1488.3,1171.7 1457.3,1171.7" fill="#FF0080"/>
<polygon points="1458.8,1147.5 1474.3,1172.5 1443.3,1172.5" fill="#FF0080"/>
<polygon points="1444.9,1148.4 1460.4,1173.4 1429.4,1173.4" fill="#FF0080"/>
<polygon points="1431.3,1149.2 1446.8,1174.2 1415.8,1174.2" fill="#FF0080"/>
<polygon points="1417.8,1150.1 1433.3,1175.1 1402.3,1175.1" fill="#FF0080"/>
<polygon points="1404.4,1150.7 1419.9,1175.7 1388.9,1175.7" fill="#FF0080"/>
<polygon points="1391.2,1151.2 1406.7,1176.2 1375.7,1176.2" fill="#FF0080"/>
<polygon points="1378.1,1151.8 1393.6,1176.8 1362.6,1176.8" fill="#FF0080"/>
<polygon points="1365.2,1151.8 1380.7,1176.8 1349.7,1176.8" fill="#FF0080"/>
<polygon points="1352.4,1151.8 1367.9,1176.8 1336.9,1176.8" fill="#FF0080"/>
<polygon points="1339.7,1151.8 1355.2,1176.8 1324.2,1176.8" fill="#FF0080"/>
<polygon points="1327.2,1151.8 1342.7,1176.8 1311.7,1176.8" fill="#FF0080"/>
<polygon points="1314.9,1151.8 1330.4,1176.8 1299.4,1176.8" fill="#FF0080"/>
<polygon points="1302.6,1151.8 1318.1,1176.8 1287.1,1176.8" fill="#FF0080"/>
<polygon points="1290.5,1151.8 1306.0,1176.8 1275.0,1176.8" fill="#FF0080"/>
<polygon points="1278.5,1151.8 1294.0,1176.8 1263.0,1176.8" fill="#FF0080"/>
<polygon points="1266.7,1151.8 1282.2,1176.8 1251.2,1176.8" fill="#FF0080"/>
<polygon points="1254.9,1151.8 1270.4,1176.8 1239.4,1176.8" fill="#FF0080"/>
<polygon points="1243.3,1151.8 1258.8,1176.8 1227.8,1176.8" fill="#FF0080"/>
<polygon points="1231.8,1151.8 1247.3,1176.8 1216.3,1176.8" fill="#FF0080"/>
<polygon points="1220.5,1151.8 1236.0,1176.8 1205.0,1176.8" fill="#FF0080"/>
<polygon points="1209.2,1151.8 1224.7,1176.8 1193.7,1176.8" fill="#FF0080"/>
<polygon points="1198.1,1151.8 1213.6,1176.8 1182.6,1176.8" fill="#FF0080"/>
<polygon points="1187.1,1151.8 1202.6,1176.8 1171.6,1176.8" fill="#FF0080"/>
<polygon points="1176.2,1151.8 1191.7,1176.8 1160.7,1176.8" fill="#FF0080"/>
<polygon points="1165.4,1151.8 1180.9,1176.8 1149.9,1176.8" fill="#FF0080"/>
<polygon points="1154.7,1151.8 1170.2,1176.8 1139.2,1176.8" fill="#FF0080"/>
<polygon points="1144.1,1151.8 1159.6,1176.8 1128.6,1176.8" fill="#FF0080"/>
<polygon points="1133.6,1151.8 1149.1,1176.8 1118.1,1176.8" fill="#FF0080"/>
<polygon points="1123.2,1151.8 1138.7,1176.8 1107.7,1176.8" fill="#FF0080"/>
<polygon points="1113.0,1151.8 1128.5,1176.8 1097.5,1176.8" fill="#FF0080"/>
<polygon points="1102.8,1151.8 1118.3,1176.8 1087.3,1176.8" fill="#FF0080"/>
<polygon points="1092.7,1151.8 1108.2,1176.8 1077.2,1176.8" fill="#FF0080"/>
<polygon points="1082.8,1151.8 1098.3,1176.8 1067.3,1176.8" fill="#FF0080"/>
<polygon points="1072.9,1151.8 1088.4,1176.8 1057.4,1176.8" fill="#FF0080"/>
<polygon points="1063.1,1151.8 1078.6,1176.8 1047.6,1176.8" fill="#FF0080"/>
<polygon points="1053.4,1151.8 1068.9,1176.8 1037.9,1176.8" fill="#FF0080"/>
<polygon points="1043.8,1151.8 1059.3,1176.8 1028.3,1176.8" fill="#FF0080"/>
<polygon points="1034.3,1151.8 1049.8,1176.8 1018.8,1176.8" fill="#FF0080"/>
<polygon points="1024.9,1151.8 1040.4,1176.8 1009.4,1176.8" fill="#FF0080"/>
<polygon points="1015.6,1151.8 1031.1,1176.8 1000.1,1176.8" fill="#FF0080"/>
<polygon points="1006.3,1151.8 1021.8,1176.8 990.8,1176.8" fill="#FF0080"/>
<polygon points="997.2,1151.8 1012.7,1176.8 981.7,1176.8" fill="#FF0080"/>
<polygon points="988.1,1151.8 1003.6,1176.8 972.6,1176.8" fill="#FF0080"/>
<polygon points="979.1,1151.8 994.6,1176.8 963.6,1176.8" fill="#FF0080"/>
<polygon points="970.2,1151.8 985.7,1176.8 954.7,1176.8" fill="#FF0080"/>
<polygon points="961.4,1151.8 976.9,1176.8 945.9,1176.8" fill="#FF0080"/>
<polygon points="952.7,1151.8 968.2,1176.8 937.2,1176.8" fill="#FF0080"/>
<polygon points="944.0,1151.8 959.5,1176.8 928.5,1176.8" fill="#FF0080"/>
<polygon points="935.4,1151.8 950.9,1176.8 919.9,1176.8" fill="#FF0080"/>
<polygon points="926.9,1151.8 942.4,1176.8 911.4,1176.8" fill="#FF0080"/>
<polygon points="918.5,1151.8 934.0,1176.8 903.0,1176.8" fill="#FF0080"/>
<polygon points="910.1,1151.8 925.6,1176.8 894.6,1176.8" fill="#FF0080"/>
<polygon points="901.8,1151.8 917.3,1176.8 886.3,1176.8" fill="#FF0080"/>
<polygon points="893.6,1151.8 909.1,1176.8 878.1,1176.8" fill="#FF0080"/>
<polygon points="885.5,1151.8 901.0,1176.8 870.0,1176.8" fill="#FF0080"/>
<polygon points="877.4,1151.8 892.9,1176.8 861.9,1176.8" fill="#FF0080"/>
<polygon points="869.4,1151.8 884.9,1176.8 853.9,1176.8" fill="#FF0080"/>
<polygon points="861.5,1151.8 877.0,1176.8 846.0,1176.8" fill="#FF0080"/>
<polygon points="853.6,1151.8 869.1,1176.8 838.1,1176.8" fill="#FF0080"/>
<polygon points="845.8,1151.8 861.3,1176.8 830.3,1176.8" fill="#FF0080"/>
<polygon points="838.1,1151.8 853.6,1176.8 822.6,1176.8" fill="#FF0080"/>
<polygon points="830.5,1151.8 846.0,1176.8 815.0,1176.8" fill="#FF0080"/>
<polygon points="822.9,1151.8 838.4,1176.8 807.4,1176.8" fill="#FF0080"/>
<polygon points="815.3,1151.8 830.8,1176.8 799.8,1176.8" fill="#FF0080"/>
<polygon points="807.9,1151.8 823.4,1176.8 792.4,1176.8" fill="#FF0080"/>
<polygon points="800.5,1151.8 816.0,1176.8 785.0,1176.8" fill="#FF0080"/>
<polygon points="793.1,1151.8 808.6,1176.8 777.6,1176.8" fill="#FF0080"/>
<polygon points="785.8,1151.8 801.3,1176.8 770.3,1176.8" fill="#FF0080"/>
<polygon points="778.6,1151.8 794.1,1176.8 763.1,1176.8" fill="#FF0080"/>
<polygon points="771.4,1151.8 786.9,1176.8 755.9,1176.8" fill="#FF0080"/>
<polygon points="764.3,1151.8 779.8,1176.8 748.8,1176.8" fill="#FF0080"/>
<polygon points="757.3,1151.8 772.8,1176.8 741.8,1176.8" fill="#FF0080"/>
<polygon points="750.3,1151.8 765.8,1176.8 734.8,1176.8" fill="#FF0080"/>
<polygon points="743.4,1151.8 758.9,1176.8 727.9,1176.8" fill="#FF0080"/>
<polygon points="736.5,1151.8 752.0,1176.8 721.0,1176.8" fill="#FF0080"/>
<polygon points="729.7,1151.8 745.2,1176.8 714.2,1176.8" fill="#FF0080"/>
<polygon points="722.9,1151.8 738.4,1176.8 707.4,1176.8" fill="#FF0080"/>
</g>
<g stroke="#000" stroke-width="4.8" fill="none" stroke-linecap="square"><line x1="1257.4" y1="1170" x2="1352.5" y2="484.5"/><line x1="1310.6" y1="1170" x2="1403.3" y2="482"/><line x1="1668" y1="1168" x2="1730.6" y2="494"/></g>
<path d="M1277.6,1010.3 C1268,997 1252,992.5 1234,992.7 C1212,993 1195,1000 1180,1009" stroke="#000" stroke-width="4.6" fill="none"/><polygon points="1162.8,1021.5 1174,1004 1183,1010.5 1182,1014.5" fill="#000"/>
<path d="M1330,1044.5 C1338,1030 1348,1025 1357,1025 C1370,1025 1382,1034 1391,1044" stroke="#000" stroke-width="4.6" fill="none"/><polygon points="1401.5,1062 1384.5,1046.5 1394.5,1039.5 1399,1043" fill="#000"/>
<path d="M1677.2,1045 C1665,1034 1650,1030.5 1633,1030.6 C1610,1031 1592,1038 1576,1047" stroke="#000" stroke-width="4.6" fill="none"/><polygon points="1558.3,1059 1570,1041.7 1579,1047 1578,1051.5" fill="#000"/>
<path d="M1201.8,272.5H1335.7" stroke="#000" stroke-width="11" stroke-linecap="round"/>
<rect x="1249.2" y="253.6" width="38.5" height="38.5" fill="#000"/>
<path d="M1201.8,349.5H1335.7" stroke="#0000FF" stroke-width="11" stroke-linecap="round"/>
<circle cx="1268.5" cy="349.5" r="21" fill="#0000FF"/>
<path d="M1201.8,425.7H1335.7" stroke="#FF0080" stroke-width="11" stroke-linecap="round"/>
<polygon points="1268.5,397.2 1294.5,440.2 1242.5,440.2" fill="#FF0080"/>
<path d="M757.6,532.8H873.4" stroke="#000" stroke-width="6.3" stroke-linecap="round"/>
<rect x="804.5" y="522.0" width="22" height="22" fill="#000"/>
<path d="M757.6,592H873.4" stroke="#0000FF" stroke-width="6.3" stroke-linecap="round"/>
<ellipse cx="815.5" cy="592" rx="13" ry="12" fill="#0000FF"/>
<path d="M757.6,651.5H873.4" stroke="#FF0080" stroke-width="6.3" stroke-linecap="round"/>
<polygon points="815.5,635.8 831.0,660.2 800.0,660.2" fill="#FF0080"/>
<g transform="translate(249.23,136.00) scale(0.8917,0.8856)"><text x="0" y="0" font-size="100">(a)</text></g>
<g transform="translate(157.74,1303.05) scale(0.6905,0.6269)"><text x="0" y="0" font-size="100">0</text></g>
<g transform="translate(128.46,1054.25) scale(0.6359,0.6269)"><text x="0" y="0" font-size="100">20</text></g>
<g transform="translate(130.38,805.45) scale(0.6158,0.6269)"><text x="0" y="0" font-size="100">40</text></g>
<g transform="translate(129.11,556.65) scale(0.6290,0.6269)"><text x="0" y="0" font-size="100">60</text></g>
<g transform="translate(130.15,307.85) scale(0.6183,0.6269)"><text x="0" y="0" font-size="100">80</text></g>
<g transform="translate(97.46,59.06) scale(0.6304,0.6176)"><text x="0" y="0" font-size="100">100</text></g>
<g transform="translate(185.49,1375.75) scale(0.6268,0.6239)"><text x="0" y="0" font-size="100">300</text></g>
<g transform="translate(610.26,1375.75) scale(0.6138,0.6239)"><text x="0" y="0" font-size="100">400</text></g>
<g transform="translate(1031.24,1375.75) scale(0.6268,0.6239)"><text x="0" y="0" font-size="100">500</text></g>
<g transform="translate(1454.76,1375.75) scale(0.6224,0.6239)"><text x="0" y="0" font-size="100">600</text></g>
<g transform="translate(1875.69,1375.75) scale(0.6357,0.6239)"><text x="0" y="0" font-size="100">700</text></g>
<g transform="translate(86.10,1034.86) rotate(-90) scale(0.9280,0.9000)"><text x="0" y="0" font-size="100">Transmittance (%)</text></g>
<g transform="translate(742.00,1450.10) scale(0.9041,0.9000)"><text x="0" y="0" font-size="100">Wavelength (nm)</text></g>
<g transform="translate(1351.69,294.35) scale(0.6064,0.6022)"><text x="0" y="0" font-size="100">Undoped ZnO</text></g>
<g transform="translate(1351.39,369.78) scale(0.6068,0.6056)"><text x="0" y="0" font-size="100">AlN-ZnO (20%)</text></g>
<g transform="translate(1351.39,446.94) scale(0.6068,0.6078)"><text x="0" y="0" font-size="100">AlN-ZnO (40%)</text></g>
<g transform="translate(692.57,1177.02) scale(0.3571,0.3388)"><text x="0" y="0" font-size="100">0</text></g>
<g transform="translate(692.57,1007.48) scale(0.3571,0.3439)"><text x="0" y="0" font-size="100">2</text></g>
<g transform="translate(693.68,837.95) scale(0.3191,0.3492)"><text x="0" y="0" font-size="100">4</text></g>
<g transform="translate(692.98,667.40) scale(0.3409,0.3388)"><text x="0" y="0" font-size="100">6</text></g>
<g transform="translate(692.98,497.52) scale(0.3409,0.3388)"><text x="0" y="0" font-size="100">8</text></g>
<g transform="translate(780.05,1216.13) scale(0.3712,0.3373)"><text x="0" y="0" font-size="100">2.6</text></g>
<g transform="translate(915.92,1216.13) scale(0.3712,0.3373)"><text x="0" y="0" font-size="100">2.8</text></g>
<g transform="translate(1051.77,1216.13) scale(0.3744,0.3373)"><text x="0" y="0" font-size="100">3.0</text></g>
<g transform="translate(1187.64,1216.13) scale(0.3744,0.3373)"><text x="0" y="0" font-size="100">3.2</text></g>
<g transform="translate(1323.53,1216.13) scale(0.3681,0.3373)"><text x="0" y="0" font-size="100">3.4</text></g>
<g transform="translate(1459.38,1216.13) scale(0.3712,0.3373)"><text x="0" y="0" font-size="100">3.6</text></g>
<g transform="translate(1595.25,1216.13) scale(0.3712,0.3373)"><text x="0" y="0" font-size="100">3.8</text></g>
<g transform="translate(1732.23,1216.13) scale(0.3650,0.3373)"><text x="0" y="0" font-size="100">4.0</text></g>
<g transform="translate(1003.32,1257.41) scale(0.5392,0.5422)"><text x="0" y="0" font-size="100" letter-spacing="5">Photon energy (eV)</text></g>
<g transform="translate(752.86,1109.34) scale(0.9852,0.9789)"><text x="0" y="0" font-size="100" letter-spacing="4">(b)</text></g>
<g transform="translate(887.03,549.00) scale(0.4841,0.4667)"><text x="0" y="0" font-size="100" letter-spacing="3">Undoped ZnO</text></g>
<g transform="translate(887.32,609.40) scale(0.4842,0.4811)"><text x="0" y="0" font-size="100" letter-spacing="3">AlN-ZnO (20%)</text></g>
<g transform="translate(887.32,668.47) scale(0.4842,0.4822)"><text x="0" y="0" font-size="100" letter-spacing="3">AlN-ZnO (40%)</text></g>
<g transform="translate(1097.50,1063.22) scale(0.3250,0.3388)"><text x="0" y="0" font-size="100" letter-spacing="6">3.26 eV</text></g>
<g transform="translate(1344.60,1094.31) scale(0.3247,0.3463)"><text x="0" y="0" font-size="100" letter-spacing="6">3.34 eV</text></g>
<g transform="translate(1495.40,1092.12) scale(0.3250,0.3403)"><text x="0" y="0" font-size="100" letter-spacing="6">3.87 eV</text></g>
<g transform="translate(675.08,1070.03) rotate(-90) scale(0.5581,0.5678)"><text x="0" y="0" font-size="100">(αhυ)<tspan dy="-58" font-size="60">2</tspan><tspan dy="58"> (10</tspan><tspan dy="-58" font-size="60">14</tspan><tspan dy="58"> eV</tspan><tspan dy="-58" font-size="60">2</tspan><tspan dy="58">cm</tspan><tspan dy="-58" font-size="60">2</tspan><tspan dy="58">)</tspan></text></g>
</svg></body></html>
